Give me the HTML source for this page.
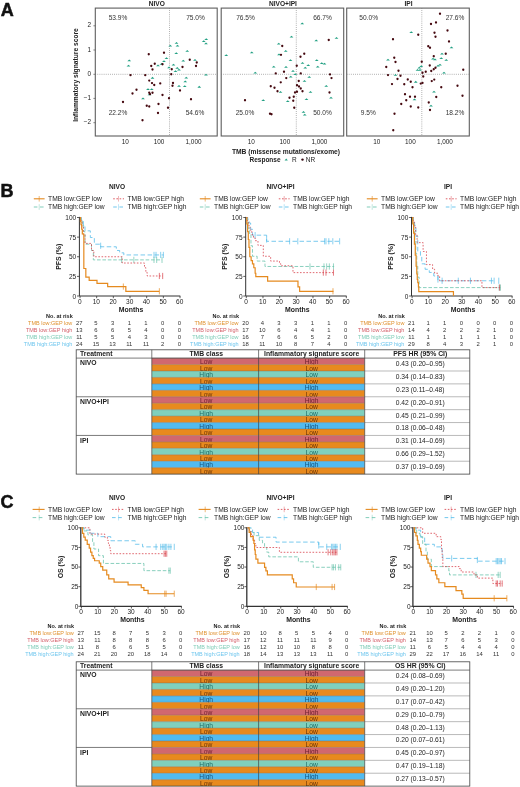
<!DOCTYPE html>
<html lang="en"><head><meta charset="utf-8"><title>Figure</title>
<style>
html,body{margin:0;padding:0;background:#fff;}
body{width:520px;height:787px;overflow:hidden;}
svg{display:block;font-family:"Liberation Sans", Arial, Helvetica, sans-serif;}
</style></head><body>
<svg width="520" height="787" viewBox="0 0 520 787">
<rect width="520" height="787" fill="#fff"/>
<text x="0.70" y="16.10" font-size="18" text-anchor="start" font-weight="bold" fill="#111" stroke="#111" stroke-width="0.5">A</text>
<text transform="translate(78.3,75) rotate(-90)" font-size="6.7" text-anchor="middle" font-weight="bold" fill="#222">Inflammatory signature score</text>
<rect x="95.3" y="8.1" width="121.90" height="127.90" fill="#fff" stroke="#5e5e5e" stroke-width="1.1"/>
<text x="156.75" y="6.20" font-size="6.6" text-anchor="middle" font-weight="bold" fill="#222" >NIVO</text>
<line x1="95.3" x2="217.2" y1="74.3" y2="74.3" stroke="#777" stroke-width="0.7" stroke-dasharray="0.8 1.3"/>
<line x1="169.5" x2="169.5" y1="8.1" y2="136.0" stroke="#777" stroke-width="0.7" stroke-dasharray="0.8 1.3"/>
<text x="125.30" y="143.60" font-size="6.4" text-anchor="middle" font-weight="normal" fill="#222" >10</text>
<text x="159.00" y="143.60" font-size="6.4" text-anchor="middle" font-weight="normal" fill="#222" >100</text>
<text x="193.50" y="143.60" font-size="6.4" text-anchor="middle" font-weight="normal" fill="#222" >1,000</text>
<path d="M127.35 61.35L131.15 61.35L129.25 59.45Z" fill="#22a083"/>
<path d="M126.60 66.60L130.40 66.60L128.50 64.70Z" fill="#22a083"/>
<path d="M168.35 46.60L172.15 46.60L170.25 44.70Z" fill="#22a083"/>
<path d="M174.60 43.85L178.40 43.85L176.50 41.95Z" fill="#22a083"/>
<path d="M175.60 46.60L179.40 46.60L177.50 44.70Z" fill="#22a083"/>
<path d="M174.35 54.10L178.15 54.10L176.25 52.20Z" fill="#22a083"/>
<path d="M185.35 51.85L189.15 51.85L187.25 49.95Z" fill="#22a083"/>
<path d="M204.35 40.10L208.15 40.10L206.25 38.20Z" fill="#22a083"/>
<path d="M201.85 42.10L205.65 42.10L203.75 40.20Z" fill="#22a083"/>
<path d="M204.10 44.35L207.90 44.35L206.00 42.45Z" fill="#22a083"/>
<path d="M164.60 59.10L168.40 59.10L166.50 57.20Z" fill="#22a083"/>
<path d="M162.10 62.10L165.90 62.10L164.00 60.20Z" fill="#22a083"/>
<path d="M156.10 66.35L159.90 66.35L158.00 64.45Z" fill="#22a083"/>
<path d="M181.35 61.60L185.15 61.60L183.25 59.70Z" fill="#22a083"/>
<path d="M193.10 60.85L196.90 60.85L195.00 58.95Z" fill="#22a083"/>
<path d="M171.60 65.60L175.40 65.60L173.50 63.70Z" fill="#22a083"/>
<path d="M167.10 68.35L170.90 68.35L169.00 66.45Z" fill="#22a083"/>
<path d="M175.35 68.85L179.15 68.85L177.25 66.95Z" fill="#22a083"/>
<path d="M177.10 70.60L180.90 70.60L179.00 68.70Z" fill="#22a083"/>
<path d="M173.60 72.10L177.40 72.10L175.50 70.20Z" fill="#22a083"/>
<path d="M204.10 75.60L207.90 75.60L206.00 73.70Z" fill="#22a083"/>
<path d="M184.35 78.60L188.15 78.60L186.25 76.70Z" fill="#22a083"/>
<path d="M183.35 82.35L187.15 82.35L185.25 80.45Z" fill="#22a083"/>
<path d="M150.60 78.75L154.40 78.75L152.50 76.85Z" fill="#22a083"/>
<path d="M177.10 86.85L180.90 86.85L179.00 84.95Z" fill="#22a083"/>
<path d="M182.85 87.05L186.65 87.05L184.75 85.15Z" fill="#22a083"/>
<path d="M197.35 87.75L201.15 87.75L199.25 85.85Z" fill="#22a083"/>
<path d="M146.10 90.10L149.90 90.10L148.00 88.20Z" fill="#22a083"/>
<path d="M149.85 90.10L153.65 90.10L151.75 88.20Z" fill="#22a083"/>
<path d="M147.60 95.35L151.40 95.35L149.50 93.45Z" fill="#22a083"/>
<path d="M141.10 99.35L144.90 99.35L143.00 97.45Z" fill="#22a083"/>
<path d="M159.60 64.85L163.40 64.85L161.50 62.95Z" fill="#22a083"/>
<circle cx="148.75" cy="54.25" r="1.15" fill="#45080f"/>
<circle cx="164.00" cy="52.75" r="1.15" fill="#45080f"/>
<circle cx="154.75" cy="63.75" r="1.15" fill="#45080f"/>
<circle cx="151.25" cy="66.00" r="1.15" fill="#45080f"/>
<circle cx="162.50" cy="64.25" r="1.15" fill="#45080f"/>
<circle cx="152.50" cy="69.50" r="1.15" fill="#45080f"/>
<circle cx="189.75" cy="59.75" r="1.15" fill="#45080f"/>
<circle cx="196.75" cy="62.50" r="1.15" fill="#45080f"/>
<circle cx="196.00" cy="66.00" r="1.15" fill="#45080f"/>
<circle cx="182.50" cy="67.00" r="1.15" fill="#45080f"/>
<circle cx="171.75" cy="69.25" r="1.15" fill="#45080f"/>
<circle cx="130.50" cy="75.20" r="1.15" fill="#45080f"/>
<circle cx="145.25" cy="75.20" r="1.15" fill="#45080f"/>
<circle cx="171.25" cy="74.25" r="1.15" fill="#45080f"/>
<circle cx="149.25" cy="80.60" r="1.15" fill="#45080f"/>
<circle cx="152.00" cy="83.10" r="1.15" fill="#45080f"/>
<circle cx="154.25" cy="85.00" r="1.15" fill="#45080f"/>
<circle cx="160.25" cy="83.40" r="1.15" fill="#45080f"/>
<circle cx="173.00" cy="83.00" r="1.15" fill="#45080f"/>
<circle cx="172.50" cy="85.75" r="1.15" fill="#45080f"/>
<circle cx="136.50" cy="89.75" r="1.15" fill="#45080f"/>
<circle cx="132.50" cy="93.50" r="1.15" fill="#45080f"/>
<circle cx="149.25" cy="92.75" r="1.15" fill="#45080f"/>
<circle cx="152.50" cy="92.75" r="1.15" fill="#45080f"/>
<circle cx="150.00" cy="94.20" r="1.15" fill="#45080f"/>
<circle cx="162.50" cy="95.00" r="1.15" fill="#45080f"/>
<circle cx="180.00" cy="90.50" r="1.15" fill="#45080f"/>
<circle cx="123.00" cy="102.00" r="1.15" fill="#45080f"/>
<circle cx="169.00" cy="98.25" r="1.15" fill="#45080f"/>
<circle cx="191.00" cy="99.25" r="1.15" fill="#45080f"/>
<circle cx="146.75" cy="105.75" r="1.15" fill="#45080f"/>
<circle cx="149.25" cy="106.50" r="1.15" fill="#45080f"/>
<circle cx="158.50" cy="104.00" r="1.15" fill="#45080f"/>
<circle cx="168.00" cy="107.75" r="1.15" fill="#45080f"/>
<circle cx="158.00" cy="113.00" r="1.15" fill="#45080f"/>
<circle cx="142.50" cy="120.25" r="1.15" fill="#45080f"/>
<text x="118.00" y="19.80" font-size="6.6" text-anchor="middle" font-weight="normal" fill="#333" >53.9%</text>
<text x="195.50" y="19.80" font-size="6.6" text-anchor="middle" font-weight="normal" fill="#333" >75.0%</text>
<text x="118.00" y="115.30" font-size="6.6" text-anchor="middle" font-weight="normal" fill="#333" >22.2%</text>
<text x="195.00" y="115.30" font-size="6.6" text-anchor="middle" font-weight="normal" fill="#333" >54.6%</text>
<rect x="221.2" y="8.1" width="122.50" height="127.90" fill="#fff" stroke="#5e5e5e" stroke-width="1.1"/>
<text x="282.95" y="6.20" font-size="6.6" text-anchor="middle" font-weight="bold" fill="#222" >NIVO+IPI</text>
<line x1="221.2" x2="343.7" y1="74.3" y2="74.3" stroke="#777" stroke-width="0.7" stroke-dasharray="0.8 1.3"/>
<line x1="296.3" x2="296.3" y1="8.1" y2="136.0" stroke="#777" stroke-width="0.7" stroke-dasharray="0.8 1.3"/>
<text x="251.20" y="143.60" font-size="6.4" text-anchor="middle" font-weight="normal" fill="#222" >10</text>
<text x="284.90" y="143.60" font-size="6.4" text-anchor="middle" font-weight="normal" fill="#222" >100</text>
<text x="319.40" y="143.60" font-size="6.4" text-anchor="middle" font-weight="normal" fill="#222" >1,000</text>
<path d="M300.35 24.35L304.15 24.35L302.25 22.45Z" fill="#22a083"/>
<path d="M289.60 37.60L293.40 37.60L291.50 35.70Z" fill="#22a083"/>
<path d="M334.60 38.85L338.40 38.85L336.50 36.95Z" fill="#22a083"/>
<path d="M314.35 41.35L318.15 41.35L316.25 39.45Z" fill="#22a083"/>
<path d="M276.85 44.60L280.65 44.60L278.75 42.70Z" fill="#22a083"/>
<path d="M224.35 56.10L228.15 56.10L226.25 54.20Z" fill="#22a083"/>
<path d="M249.85 53.35L253.65 53.35L251.75 51.45Z" fill="#22a083"/>
<path d="M283.85 51.85L287.65 51.85L285.75 49.95Z" fill="#22a083"/>
<path d="M277.10 55.35L280.90 55.35L279.00 53.45Z" fill="#22a083"/>
<path d="M288.60 61.10L292.40 61.10L290.50 59.20Z" fill="#22a083"/>
<path d="M314.85 61.10L318.65 61.10L316.75 59.20Z" fill="#22a083"/>
<path d="M300.60 63.85L304.40 63.85L302.50 61.95Z" fill="#22a083"/>
<path d="M319.85 64.10L323.65 64.10L321.75 62.20Z" fill="#22a083"/>
<path d="M322.60 64.60L326.40 64.60L324.50 62.70Z" fill="#22a083"/>
<path d="M306.35 66.10L310.15 66.10L308.25 64.20Z" fill="#22a083"/>
<path d="M271.85 67.60L275.65 67.60L273.75 65.70Z" fill="#22a083"/>
<path d="M284.10 67.85L287.90 67.85L286.00 65.95Z" fill="#22a083"/>
<path d="M303.35 68.60L307.15 68.60L305.25 66.70Z" fill="#22a083"/>
<path d="M315.85 67.60L319.65 67.60L317.75 65.70Z" fill="#22a083"/>
<path d="M291.10 71.85L294.90 71.85L293.00 69.95Z" fill="#22a083"/>
<path d="M253.35 73.60L257.15 73.60L255.25 71.70Z" fill="#22a083"/>
<path d="M293.35 75.10L297.15 75.10L295.25 73.20Z" fill="#22a083"/>
<path d="M288.85 77.60L292.65 77.60L290.75 75.70Z" fill="#22a083"/>
<path d="M307.35 77.85L311.15 77.85L309.25 75.95Z" fill="#22a083"/>
<path d="M302.60 81.85L306.40 81.85L304.50 79.95Z" fill="#22a083"/>
<path d="M324.35 86.85L328.15 86.85L326.25 84.95Z" fill="#22a083"/>
<path d="M278.60 92.85L282.40 92.85L280.50 90.95Z" fill="#22a083"/>
<path d="M308.60 92.85L312.40 92.85L310.50 90.95Z" fill="#22a083"/>
<path d="M329.10 98.60L332.90 98.60L331.00 96.70Z" fill="#22a083"/>
<path d="M261.35 101.10L265.15 101.10L263.25 99.20Z" fill="#22a083"/>
<path d="M285.85 102.10L289.65 102.10L287.75 100.20Z" fill="#22a083"/>
<path d="M304.60 100.10L308.40 100.10L306.50 98.20Z" fill="#22a083"/>
<path d="M301.60 112.85L305.40 112.85L303.50 110.95Z" fill="#22a083"/>
<path d="M302.85 115.60L306.65 115.60L304.75 113.70Z" fill="#22a083"/>
<circle cx="328.75" cy="40.00" r="1.15" fill="#45080f"/>
<circle cx="282.25" cy="46.00" r="1.15" fill="#45080f"/>
<circle cx="304.25" cy="53.75" r="1.15" fill="#45080f"/>
<circle cx="300.50" cy="56.75" r="1.15" fill="#45080f"/>
<circle cx="296.75" cy="65.75" r="1.15" fill="#45080f"/>
<circle cx="284.00" cy="71.75" r="1.15" fill="#45080f"/>
<circle cx="275.75" cy="73.40" r="1.15" fill="#45080f"/>
<circle cx="300.75" cy="73.40" r="1.15" fill="#45080f"/>
<circle cx="330.00" cy="74.40" r="1.15" fill="#45080f"/>
<circle cx="331.50" cy="78.10" r="1.15" fill="#45080f"/>
<circle cx="286.25" cy="78.10" r="1.15" fill="#45080f"/>
<circle cx="298.75" cy="81.00" r="1.15" fill="#45080f"/>
<circle cx="280.75" cy="82.30" r="1.15" fill="#45080f"/>
<circle cx="270.75" cy="86.25" r="1.15" fill="#45080f"/>
<circle cx="274.50" cy="87.75" r="1.15" fill="#45080f"/>
<circle cx="297.00" cy="85.25" r="1.15" fill="#45080f"/>
<circle cx="299.00" cy="86.50" r="1.15" fill="#45080f"/>
<circle cx="300.75" cy="88.50" r="1.15" fill="#45080f"/>
<circle cx="302.50" cy="91.25" r="1.15" fill="#45080f"/>
<circle cx="277.50" cy="91.25" r="1.15" fill="#45080f"/>
<circle cx="297.00" cy="91.75" r="1.15" fill="#45080f"/>
<circle cx="295.00" cy="92.50" r="1.15" fill="#45080f"/>
<circle cx="329.50" cy="92.50" r="1.15" fill="#45080f"/>
<circle cx="293.75" cy="96.75" r="1.15" fill="#45080f"/>
<circle cx="289.50" cy="97.75" r="1.15" fill="#45080f"/>
<circle cx="245.00" cy="100.25" r="1.15" fill="#45080f"/>
<circle cx="293.25" cy="100.75" r="1.15" fill="#45080f"/>
<circle cx="294.25" cy="107.75" r="1.15" fill="#45080f"/>
<circle cx="270.00" cy="113.75" r="1.15" fill="#45080f"/>
<circle cx="271.50" cy="114.25" r="1.15" fill="#45080f"/>
<circle cx="281.00" cy="54.80" r="1.15" fill="#45080f"/>
<text x="245.50" y="19.80" font-size="6.6" text-anchor="middle" font-weight="normal" fill="#333" >76.5%</text>
<text x="322.50" y="19.80" font-size="6.6" text-anchor="middle" font-weight="normal" fill="#333" >66.7%</text>
<text x="245.00" y="115.30" font-size="6.6" text-anchor="middle" font-weight="normal" fill="#333" >25.0%</text>
<text x="322.50" y="115.30" font-size="6.6" text-anchor="middle" font-weight="normal" fill="#333" >50.0%</text>
<rect x="346.7" y="8.1" width="122.60" height="127.90" fill="#fff" stroke="#5e5e5e" stroke-width="1.1"/>
<text x="408.50" y="6.20" font-size="6.6" text-anchor="middle" font-weight="bold" fill="#222" >IPI</text>
<line x1="346.7" x2="469.3" y1="74.3" y2="74.3" stroke="#777" stroke-width="0.7" stroke-dasharray="0.8 1.3"/>
<line x1="421.8" x2="421.8" y1="8.1" y2="136.0" stroke="#777" stroke-width="0.7" stroke-dasharray="0.8 1.3"/>
<text x="376.70" y="143.60" font-size="6.4" text-anchor="middle" font-weight="normal" fill="#222" >10</text>
<text x="410.40" y="143.60" font-size="6.4" text-anchor="middle" font-weight="normal" fill="#222" >100</text>
<text x="444.90" y="143.60" font-size="6.4" text-anchor="middle" font-weight="normal" fill="#222" >1,000</text>
<path d="M409.35 33.10L413.15 33.10L411.25 31.20Z" fill="#22a083"/>
<path d="M449.60 48.35L453.40 48.35L451.50 46.45Z" fill="#22a083"/>
<path d="M440.10 54.60L443.90 54.60L442.00 52.70Z" fill="#22a083"/>
<path d="M431.10 59.60L434.90 59.60L433.00 57.70Z" fill="#22a083"/>
<path d="M433.10 60.35L436.90 60.35L435.00 58.45Z" fill="#22a083"/>
<path d="M439.35 59.10L443.15 59.10L441.25 57.20Z" fill="#22a083"/>
<path d="M444.35 60.85L448.15 60.85L446.25 58.95Z" fill="#22a083"/>
<path d="M386.10 60.60L389.90 60.60L388.00 58.70Z" fill="#22a083"/>
<path d="M438.10 65.60L441.90 65.60L440.00 63.70Z" fill="#22a083"/>
<path d="M436.10 66.60L439.90 66.60L438.00 64.70Z" fill="#22a083"/>
<path d="M419.35 67.10L423.15 67.10L421.25 65.20Z" fill="#22a083"/>
<path d="M417.35 68.60L421.15 68.60L419.25 66.70Z" fill="#22a083"/>
<path d="M415.60 70.85L419.40 70.85L417.50 68.95Z" fill="#22a083"/>
<path d="M418.10 70.85L421.90 70.85L420.00 68.95Z" fill="#22a083"/>
<path d="M442.10 73.60L445.90 73.60L444.00 71.70Z" fill="#22a083"/>
<path d="M393.60 75.85L397.40 75.85L395.50 73.95Z" fill="#22a083"/>
<path d="M413.85 82.75L417.65 82.75L415.75 80.85Z" fill="#22a083"/>
<path d="M432.10 92.60L435.90 92.60L434.00 90.70Z" fill="#22a083"/>
<path d="M412.60 100.35L416.40 100.35L414.50 98.45Z" fill="#22a083"/>
<path d="M429.10 106.60L432.90 106.60L431.00 104.70Z" fill="#22a083"/>
<circle cx="440.00" cy="13.75" r="1.15" fill="#45080f"/>
<circle cx="436.00" cy="22.50" r="1.15" fill="#45080f"/>
<circle cx="431.00" cy="24.00" r="1.15" fill="#45080f"/>
<circle cx="447.50" cy="30.50" r="1.15" fill="#45080f"/>
<circle cx="434.50" cy="32.75" r="1.15" fill="#45080f"/>
<circle cx="418.25" cy="34.75" r="1.15" fill="#45080f"/>
<circle cx="435.50" cy="36.75" r="1.15" fill="#45080f"/>
<circle cx="393.00" cy="39.25" r="1.15" fill="#45080f"/>
<circle cx="449.00" cy="41.50" r="1.15" fill="#45080f"/>
<circle cx="428.25" cy="46.25" r="1.15" fill="#45080f"/>
<circle cx="430.00" cy="47.75" r="1.15" fill="#45080f"/>
<circle cx="445.75" cy="53.75" r="1.15" fill="#45080f"/>
<circle cx="433.75" cy="56.25" r="1.15" fill="#45080f"/>
<circle cx="394.25" cy="57.75" r="1.15" fill="#45080f"/>
<circle cx="395.50" cy="62.00" r="1.15" fill="#45080f"/>
<circle cx="421.75" cy="61.75" r="1.15" fill="#45080f"/>
<circle cx="429.75" cy="65.50" r="1.15" fill="#45080f"/>
<circle cx="386.25" cy="67.00" r="1.15" fill="#45080f"/>
<circle cx="435.50" cy="67.75" r="1.15" fill="#45080f"/>
<circle cx="433.75" cy="69.25" r="1.15" fill="#45080f"/>
<circle cx="463.25" cy="69.75" r="1.15" fill="#45080f"/>
<circle cx="398.50" cy="70.75" r="1.15" fill="#45080f"/>
<circle cx="431.25" cy="71.00" r="1.15" fill="#45080f"/>
<circle cx="425.75" cy="71.75" r="1.15" fill="#45080f"/>
<circle cx="422.50" cy="72.75" r="1.15" fill="#45080f"/>
<circle cx="388.00" cy="75.10" r="1.15" fill="#45080f"/>
<circle cx="400.50" cy="75.75" r="1.15" fill="#45080f"/>
<circle cx="423.25" cy="76.50" r="1.15" fill="#45080f"/>
<circle cx="397.50" cy="79.00" r="1.15" fill="#45080f"/>
<circle cx="407.75" cy="79.50" r="1.15" fill="#45080f"/>
<circle cx="410.75" cy="81.75" r="1.15" fill="#45080f"/>
<circle cx="434.25" cy="79.60" r="1.15" fill="#45080f"/>
<circle cx="431.75" cy="81.10" r="1.15" fill="#45080f"/>
<circle cx="422.50" cy="82.90" r="1.15" fill="#45080f"/>
<circle cx="420.75" cy="83.60" r="1.15" fill="#45080f"/>
<circle cx="392.00" cy="84.10" r="1.15" fill="#45080f"/>
<circle cx="404.25" cy="84.25" r="1.15" fill="#45080f"/>
<circle cx="457.50" cy="85.75" r="1.15" fill="#45080f"/>
<circle cx="441.25" cy="87.25" r="1.15" fill="#45080f"/>
<circle cx="412.50" cy="87.25" r="1.15" fill="#45080f"/>
<circle cx="405.00" cy="94.25" r="1.15" fill="#45080f"/>
<circle cx="410.00" cy="96.75" r="1.15" fill="#45080f"/>
<circle cx="415.00" cy="96.75" r="1.15" fill="#45080f"/>
<circle cx="436.25" cy="97.00" r="1.15" fill="#45080f"/>
<circle cx="462.50" cy="95.75" r="1.15" fill="#45080f"/>
<circle cx="406.25" cy="100.25" r="1.15" fill="#45080f"/>
<circle cx="428.75" cy="102.50" r="1.15" fill="#45080f"/>
<circle cx="401.25" cy="104.00" r="1.15" fill="#45080f"/>
<circle cx="410.75" cy="106.50" r="1.15" fill="#45080f"/>
<circle cx="418.25" cy="107.50" r="1.15" fill="#45080f"/>
<circle cx="430.00" cy="110.00" r="1.15" fill="#45080f"/>
<circle cx="394.50" cy="113.75" r="1.15" fill="#45080f"/>
<circle cx="393.25" cy="130.25" r="1.15" fill="#45080f"/>
<text x="368.70" y="19.80" font-size="6.6" text-anchor="middle" font-weight="normal" fill="#333" >50.0%</text>
<text x="455.00" y="19.80" font-size="6.6" text-anchor="middle" font-weight="normal" fill="#333" >27.6%</text>
<text x="368.30" y="115.30" font-size="6.6" text-anchor="middle" font-weight="normal" fill="#333" >9.5%</text>
<text x="455.00" y="115.30" font-size="6.6" text-anchor="middle" font-weight="normal" fill="#333" >18.2%</text>
<text x="91.00" y="27.30" font-size="6.4" text-anchor="end" font-weight="normal" fill="#222" >2</text>
<line x1="93.4" x2="95.3" y1="25.8" y2="25.8" stroke="#555" stroke-width="0.7"/>
<text x="91.00" y="51.50" font-size="6.4" text-anchor="end" font-weight="normal" fill="#222" >1</text>
<line x1="93.4" x2="95.3" y1="50" y2="50" stroke="#555" stroke-width="0.7"/>
<text x="91.00" y="75.80" font-size="6.4" text-anchor="end" font-weight="normal" fill="#222" >0</text>
<line x1="93.4" x2="95.3" y1="74.3" y2="74.3" stroke="#555" stroke-width="0.7"/>
<text x="91.00" y="99.90" font-size="6.4" text-anchor="end" font-weight="normal" fill="#222" >−1</text>
<line x1="93.4" x2="95.3" y1="98.4" y2="98.4" stroke="#555" stroke-width="0.7"/>
<text x="91.00" y="124.20" font-size="6.4" text-anchor="end" font-weight="normal" fill="#222" >−2</text>
<line x1="93.4" x2="95.3" y1="122.7" y2="122.7" stroke="#555" stroke-width="0.7"/>
<text x="286.00" y="154.20" font-size="6.7" text-anchor="middle" font-weight="bold" fill="#222" >TMB (missense mutations/exome)</text>
<text x="249.50" y="161.90" font-size="6.5" text-anchor="start" font-weight="bold" fill="#222" >Response</text>
<path d="M284.6 160.5L287.8 160.5L286.2 158.4Z" fill="#22a083"/>
<text x="292.00" y="161.90" font-size="6.5" text-anchor="start" font-weight="normal" fill="#222" >R</text>
<circle cx="302.5" cy="159.6" r="1.2" fill="#33060f"/>
<text x="305.70" y="161.90" font-size="6.5" text-anchor="start" font-weight="normal" fill="#222" >NR</text>
<text x="0.60" y="197.20" font-size="18" text-anchor="start" font-weight="bold" fill="#111" stroke="#111" stroke-width="0.5">B</text>
<text x="117.00" y="189.30" font-size="6.6" text-anchor="middle" font-weight="bold" fill="#222" >NIVO</text>
<line x1="33.8" x2="44.599999999999994" y1="198.79999999999998" y2="198.79999999999998" stroke="#e58a1f" stroke-width="1.1" />
<line x1="39.199999999999996" x2="39.199999999999996" y1="195.99999999999997" y2="201.6" stroke="#e58a1f" stroke-width="0.6" opacity="1"/>
<text x="48.10" y="201.10" font-size="6.7" text-anchor="start" font-weight="normal" fill="#222" >TMB low:GEP low</text>
<line x1="113.2" x2="124.0" y1="198.79999999999998" y2="198.79999999999998" stroke="#d8434c" stroke-width="0.85" stroke-dasharray="1.6 1.6"/>
<line x1="118.60000000000001" x2="118.60000000000001" y1="195.99999999999997" y2="201.6" stroke="#d8434c" stroke-width="0.6" opacity="0.7"/>
<text x="127.50" y="201.10" font-size="6.7" text-anchor="start" font-weight="normal" fill="#222" >TMB low:GEP high</text>
<line x1="33.8" x2="44.599999999999994" y1="206.99999999999997" y2="206.99999999999997" stroke="#6cc4ad" stroke-width="0.85" stroke-dasharray="3.6 2.6"/>
<line x1="39.199999999999996" x2="39.199999999999996" y1="204.19999999999996" y2="209.79999999999998" stroke="#6cc4ad" stroke-width="0.6" opacity="0.7"/>
<text x="48.10" y="209.30" font-size="6.7" text-anchor="start" font-weight="normal" fill="#222" >TMB high:GEP low</text>
<line x1="113.2" x2="124.0" y1="206.99999999999997" y2="206.99999999999997" stroke="#58bdea" stroke-width="0.85" stroke-dasharray="3.6 2.6"/>
<line x1="118.60000000000001" x2="118.60000000000001" y1="204.19999999999996" y2="209.79999999999998" stroke="#58bdea" stroke-width="0.6" opacity="0.7"/>
<text x="127.50" y="209.30" font-size="6.7" text-anchor="start" font-weight="normal" fill="#222" >TMB high:GEP high</text>
<path d="M79.4 216.90L79.4 296.0L180.32 296.0" fill="none" stroke="#333" stroke-width="1.0"/>
<line x1="77.0" x2="79.4" y1="296.00" y2="296.00" stroke="#333" stroke-width="0.8"/>
<text x="76.20" y="298.60" font-size="6.5" text-anchor="end" font-weight="normal" fill="#222" >0</text>
<line x1="77.0" x2="79.4" y1="276.38" y2="276.38" stroke="#333" stroke-width="0.8"/>
<text x="76.20" y="278.97" font-size="6.5" text-anchor="end" font-weight="normal" fill="#222" >25</text>
<line x1="77.0" x2="79.4" y1="256.75" y2="256.75" stroke="#333" stroke-width="0.8"/>
<text x="76.20" y="259.35" font-size="6.5" text-anchor="end" font-weight="normal" fill="#222" >50</text>
<line x1="77.0" x2="79.4" y1="237.12" y2="237.12" stroke="#333" stroke-width="0.8"/>
<text x="76.20" y="239.72" font-size="6.5" text-anchor="end" font-weight="normal" fill="#222" >75</text>
<line x1="77.0" x2="79.4" y1="217.50" y2="217.50" stroke="#333" stroke-width="0.8"/>
<text x="76.20" y="220.10" font-size="6.5" text-anchor="end" font-weight="normal" fill="#222" >100</text>
<line x1="80.00" x2="80.00" y1="296.0" y2="298.2" stroke="#333" stroke-width="0.8"/>
<text x="79.70" y="303.90" font-size="6.5" text-anchor="middle" font-weight="normal" fill="#222" >0</text>
<line x1="96.67" x2="96.67" y1="296.0" y2="298.2" stroke="#333" stroke-width="0.8"/>
<text x="96.37" y="303.90" font-size="6.5" text-anchor="middle" font-weight="normal" fill="#222" >10</text>
<line x1="113.34" x2="113.34" y1="296.0" y2="298.2" stroke="#333" stroke-width="0.8"/>
<text x="113.04" y="303.90" font-size="6.5" text-anchor="middle" font-weight="normal" fill="#222" >20</text>
<line x1="130.01" x2="130.01" y1="296.0" y2="298.2" stroke="#333" stroke-width="0.8"/>
<text x="129.71" y="303.90" font-size="6.5" text-anchor="middle" font-weight="normal" fill="#222" >30</text>
<line x1="146.68" x2="146.68" y1="296.0" y2="298.2" stroke="#333" stroke-width="0.8"/>
<text x="146.38" y="303.90" font-size="6.5" text-anchor="middle" font-weight="normal" fill="#222" >40</text>
<line x1="163.35" x2="163.35" y1="296.0" y2="298.2" stroke="#333" stroke-width="0.8"/>
<text x="163.05" y="303.90" font-size="6.5" text-anchor="middle" font-weight="normal" fill="#222" >50</text>
<line x1="180.02" x2="180.02" y1="296.0" y2="298.2" stroke="#333" stroke-width="0.8"/>
<text x="179.72" y="303.90" font-size="6.5" text-anchor="middle" font-weight="normal" fill="#222" >60</text>
<text x="131.01" y="311.50" font-size="6.9" text-anchor="middle" font-weight="bold" fill="#222" >Months</text>
<text transform="translate(61.10,256.75) rotate(-90)" font-size="6.9" text-anchor="middle" font-weight="bold" fill="#222">PFS (%)</text>
<path d="M80.00 217.50H81.33V219.86H83.33V225.35H85.00V230.84H90.34V237.52H94.34V244.19H100.67V246.78H116.34V250.47H119.67V252.82H123.84V254.94H163.68V254.94" fill="none" stroke="#58bdea" stroke-width="0.8" stroke-dasharray="4.5 2.5"/>
<line x1="100.67" x2="100.67" y1="242.66" y2="248.86" stroke="#58bdea" stroke-width="0.7"/>
<line x1="154.01" x2="154.01" y1="251.84" y2="258.04" stroke="#58bdea" stroke-width="0.7"/>
<line x1="156.02" x2="156.02" y1="251.84" y2="258.04" stroke="#58bdea" stroke-width="0.7"/>
<line x1="160.68" x2="160.68" y1="251.84" y2="258.04" stroke="#58bdea" stroke-width="0.7"/>
<line x1="163.35" x2="163.35" y1="251.84" y2="258.04" stroke="#58bdea" stroke-width="0.7"/>
<path d="M80.00 217.50H81.00V219.86H82.33V225.35H83.67V231.63H85.00V244.19H91.50V250.47H93.34V259.89H162.02V259.89" fill="none" stroke="#6cc4ad" stroke-width="0.8" stroke-dasharray="3.6 1.8"/>
<line x1="121.68" x2="121.68" y1="256.79" y2="262.99" stroke="#6cc4ad" stroke-width="0.7"/>
<line x1="133.84" x2="133.84" y1="256.79" y2="262.99" stroke="#6cc4ad" stroke-width="0.7"/>
<line x1="154.01" x2="154.01" y1="256.79" y2="262.99" stroke="#6cc4ad" stroke-width="0.7"/>
<line x1="156.68" x2="156.68" y1="256.79" y2="262.99" stroke="#6cc4ad" stroke-width="0.7"/>
<line x1="162.02" x2="162.02" y1="256.79" y2="262.99" stroke="#6cc4ad" stroke-width="0.7"/>
<path d="M80.00 217.50H80.83V220.64H82.00V226.92H83.33V234.77H85.00V243.41H91.50V250.47H93.84V256.75H122.18V263.03H144.51V267.74H145.85V272.45H147.18V275.98H162.68V275.98" fill="none" stroke="#d8434c" stroke-width="0.8" stroke-dasharray="1.6 1.6"/>
<line x1="159.35" x2="159.35" y1="272.88" y2="279.08" stroke="#d8434c" stroke-width="0.7"/>
<line x1="162.68" x2="162.68" y1="272.88" y2="279.08" stroke="#d8434c" stroke-width="0.7"/>
<path d="M80.00 217.50H80.50V221.43H81.00V224.56H81.67V229.27H82.33V233.99H83.83V268.52H85.83V277.16H89.17V280.30H97.00V283.44H107.67V286.58H125.84V291.29H159.35V291.29" fill="none" stroke="#e58a1f" stroke-width="1.2" />
<line x1="123.34" x2="123.34" y1="283.48" y2="289.68" stroke="#e58a1f" stroke-width="0.7"/>
<line x1="159.35" x2="159.35" y1="288.19" y2="294.39" stroke="#e58a1f" stroke-width="0.7"/>
<text x="72.70" y="317.80" font-size="5.5" text-anchor="end" font-weight="bold" fill="#222" >No. at risk</text>
<text x="72.30" y="324.90" font-size="5.5" text-anchor="end" font-weight="normal" fill="#e0922f" >TMB low:GEP low</text>
<text x="79.30" y="324.90" font-size="5.9" text-anchor="middle" font-weight="normal" fill="#333" >27</text>
<text x="95.97" y="324.90" font-size="5.9" text-anchor="middle" font-weight="normal" fill="#333" >5</text>
<text x="112.64" y="324.90" font-size="5.9" text-anchor="middle" font-weight="normal" fill="#333" >3</text>
<text x="129.31" y="324.90" font-size="5.9" text-anchor="middle" font-weight="normal" fill="#333" >1</text>
<text x="145.98" y="324.90" font-size="5.9" text-anchor="middle" font-weight="normal" fill="#333" >1</text>
<text x="162.65" y="324.90" font-size="5.9" text-anchor="middle" font-weight="normal" fill="#333" >0</text>
<text x="179.32" y="324.90" font-size="5.9" text-anchor="middle" font-weight="normal" fill="#333" >0</text>
<text x="72.30" y="331.86" font-size="5.5" text-anchor="end" font-weight="normal" fill="#d4606a" >TMB low:GEP high</text>
<text x="79.30" y="331.86" font-size="5.9" text-anchor="middle" font-weight="normal" fill="#333" >13</text>
<text x="95.97" y="331.86" font-size="5.9" text-anchor="middle" font-weight="normal" fill="#333" >6</text>
<text x="112.64" y="331.86" font-size="5.9" text-anchor="middle" font-weight="normal" fill="#333" >6</text>
<text x="129.31" y="331.86" font-size="5.9" text-anchor="middle" font-weight="normal" fill="#333" >5</text>
<text x="145.98" y="331.86" font-size="5.9" text-anchor="middle" font-weight="normal" fill="#333" >4</text>
<text x="162.65" y="331.86" font-size="5.9" text-anchor="middle" font-weight="normal" fill="#333" >0</text>
<text x="179.32" y="331.86" font-size="5.9" text-anchor="middle" font-weight="normal" fill="#333" >0</text>
<text x="72.30" y="338.82" font-size="5.5" text-anchor="end" font-weight="normal" fill="#7fcdb8" >TMB high:GEP low</text>
<text x="79.30" y="338.82" font-size="5.9" text-anchor="middle" font-weight="normal" fill="#333" >11</text>
<text x="95.97" y="338.82" font-size="5.9" text-anchor="middle" font-weight="normal" fill="#333" >5</text>
<text x="112.64" y="338.82" font-size="5.9" text-anchor="middle" font-weight="normal" fill="#333" >5</text>
<text x="129.31" y="338.82" font-size="5.9" text-anchor="middle" font-weight="normal" fill="#333" >4</text>
<text x="145.98" y="338.82" font-size="5.9" text-anchor="middle" font-weight="normal" fill="#333" >3</text>
<text x="162.65" y="338.82" font-size="5.9" text-anchor="middle" font-weight="normal" fill="#333" >0</text>
<text x="179.32" y="338.82" font-size="5.9" text-anchor="middle" font-weight="normal" fill="#333" >0</text>
<text x="72.30" y="345.78" font-size="5.5" text-anchor="end" font-weight="normal" fill="#6fc6ee" >TMB high:GEP high</text>
<text x="79.30" y="345.78" font-size="5.9" text-anchor="middle" font-weight="normal" fill="#333" >24</text>
<text x="95.97" y="345.78" font-size="5.9" text-anchor="middle" font-weight="normal" fill="#333" >15</text>
<text x="112.64" y="345.78" font-size="5.9" text-anchor="middle" font-weight="normal" fill="#333" >13</text>
<text x="129.31" y="345.78" font-size="5.9" text-anchor="middle" font-weight="normal" fill="#333" >11</text>
<text x="145.98" y="345.78" font-size="5.9" text-anchor="middle" font-weight="normal" fill="#333" >11</text>
<text x="162.65" y="345.78" font-size="5.9" text-anchor="middle" font-weight="normal" fill="#333" >2</text>
<text x="179.32" y="345.78" font-size="5.9" text-anchor="middle" font-weight="normal" fill="#333" >0</text>
<text x="280.50" y="189.30" font-size="6.6" text-anchor="middle" font-weight="bold" fill="#222" >NIVO+IPI</text>
<line x1="199.8" x2="210.60000000000002" y1="198.79999999999998" y2="198.79999999999998" stroke="#e58a1f" stroke-width="1.1" />
<line x1="205.20000000000002" x2="205.20000000000002" y1="195.99999999999997" y2="201.6" stroke="#e58a1f" stroke-width="0.6" opacity="1"/>
<text x="214.10" y="201.10" font-size="6.7" text-anchor="start" font-weight="normal" fill="#222" >TMB low:GEP low</text>
<line x1="278.8" x2="289.6" y1="198.79999999999998" y2="198.79999999999998" stroke="#d8434c" stroke-width="0.85" stroke-dasharray="1.6 1.6"/>
<line x1="284.2" x2="284.2" y1="195.99999999999997" y2="201.6" stroke="#d8434c" stroke-width="0.6" opacity="0.7"/>
<text x="293.10" y="201.10" font-size="6.7" text-anchor="start" font-weight="normal" fill="#222" >TMB low:GEP high</text>
<line x1="199.8" x2="210.60000000000002" y1="206.99999999999997" y2="206.99999999999997" stroke="#6cc4ad" stroke-width="0.85" stroke-dasharray="3.6 2.6"/>
<line x1="205.20000000000002" x2="205.20000000000002" y1="204.19999999999996" y2="209.79999999999998" stroke="#6cc4ad" stroke-width="0.6" opacity="0.7"/>
<text x="214.10" y="209.30" font-size="6.7" text-anchor="start" font-weight="normal" fill="#222" >TMB high:GEP low</text>
<line x1="278.8" x2="289.6" y1="206.99999999999997" y2="206.99999999999997" stroke="#58bdea" stroke-width="0.85" stroke-dasharray="3.6 2.6"/>
<line x1="284.2" x2="284.2" y1="204.19999999999996" y2="209.79999999999998" stroke="#58bdea" stroke-width="0.6" opacity="0.7"/>
<text x="293.10" y="209.30" font-size="6.7" text-anchor="start" font-weight="normal" fill="#222" >TMB high:GEP high</text>
<path d="M245.70000000000002 216.90L245.70000000000002 296.0L346.62 296.0" fill="none" stroke="#333" stroke-width="1.0"/>
<line x1="243.3" x2="245.70000000000002" y1="296.00" y2="296.00" stroke="#333" stroke-width="0.8"/>
<text x="242.50" y="298.60" font-size="6.5" text-anchor="end" font-weight="normal" fill="#222" >0</text>
<line x1="243.3" x2="245.70000000000002" y1="276.38" y2="276.38" stroke="#333" stroke-width="0.8"/>
<text x="242.50" y="278.97" font-size="6.5" text-anchor="end" font-weight="normal" fill="#222" >25</text>
<line x1="243.3" x2="245.70000000000002" y1="256.75" y2="256.75" stroke="#333" stroke-width="0.8"/>
<text x="242.50" y="259.35" font-size="6.5" text-anchor="end" font-weight="normal" fill="#222" >50</text>
<line x1="243.3" x2="245.70000000000002" y1="237.12" y2="237.12" stroke="#333" stroke-width="0.8"/>
<text x="242.50" y="239.72" font-size="6.5" text-anchor="end" font-weight="normal" fill="#222" >75</text>
<line x1="243.3" x2="245.70000000000002" y1="217.50" y2="217.50" stroke="#333" stroke-width="0.8"/>
<text x="242.50" y="220.10" font-size="6.5" text-anchor="end" font-weight="normal" fill="#222" >100</text>
<line x1="246.30" x2="246.30" y1="296.0" y2="298.2" stroke="#333" stroke-width="0.8"/>
<text x="246.00" y="303.90" font-size="6.5" text-anchor="middle" font-weight="normal" fill="#222" >0</text>
<line x1="262.97" x2="262.97" y1="296.0" y2="298.2" stroke="#333" stroke-width="0.8"/>
<text x="262.67" y="303.90" font-size="6.5" text-anchor="middle" font-weight="normal" fill="#222" >10</text>
<line x1="279.64" x2="279.64" y1="296.0" y2="298.2" stroke="#333" stroke-width="0.8"/>
<text x="279.34" y="303.90" font-size="6.5" text-anchor="middle" font-weight="normal" fill="#222" >20</text>
<line x1="296.31" x2="296.31" y1="296.0" y2="298.2" stroke="#333" stroke-width="0.8"/>
<text x="296.01" y="303.90" font-size="6.5" text-anchor="middle" font-weight="normal" fill="#222" >30</text>
<line x1="312.98" x2="312.98" y1="296.0" y2="298.2" stroke="#333" stroke-width="0.8"/>
<text x="312.68" y="303.90" font-size="6.5" text-anchor="middle" font-weight="normal" fill="#222" >40</text>
<line x1="329.65" x2="329.65" y1="296.0" y2="298.2" stroke="#333" stroke-width="0.8"/>
<text x="329.35" y="303.90" font-size="6.5" text-anchor="middle" font-weight="normal" fill="#222" >50</text>
<line x1="346.32" x2="346.32" y1="296.0" y2="298.2" stroke="#333" stroke-width="0.8"/>
<text x="346.02" y="303.90" font-size="6.5" text-anchor="middle" font-weight="normal" fill="#222" >60</text>
<text x="297.31" y="311.50" font-size="6.9" text-anchor="middle" font-weight="bold" fill="#222" >Months</text>
<text transform="translate(227.40,256.75) rotate(-90)" font-size="6.9" text-anchor="middle" font-weight="bold" fill="#222">PFS (%)</text>
<path d="M246.30 217.50H247.80V219.86H249.30V223.00H250.63V229.27H252.47V235.16H266.64V241.29H339.65V241.29" fill="none" stroke="#58bdea" stroke-width="0.8" stroke-dasharray="4.5 2.5"/>
<line x1="255.14" x2="255.14" y1="232.06" y2="238.26" stroke="#58bdea" stroke-width="0.7"/>
<line x1="266.64" x2="266.64" y1="236.38" y2="242.58" stroke="#58bdea" stroke-width="0.7"/>
<line x1="289.64" x2="289.64" y1="238.19" y2="244.39" stroke="#58bdea" stroke-width="0.7"/>
<line x1="297.81" x2="297.81" y1="238.19" y2="244.39" stroke="#58bdea" stroke-width="0.7"/>
<line x1="324.65" x2="324.65" y1="238.19" y2="244.39" stroke="#58bdea" stroke-width="0.7"/>
<line x1="325.98" x2="325.98" y1="238.19" y2="244.39" stroke="#58bdea" stroke-width="0.7"/>
<line x1="328.82" x2="328.82" y1="238.19" y2="244.39" stroke="#58bdea" stroke-width="0.7"/>
<line x1="332.82" x2="332.82" y1="238.19" y2="244.39" stroke="#58bdea" stroke-width="0.7"/>
<line x1="339.65" x2="339.65" y1="238.19" y2="244.39" stroke="#58bdea" stroke-width="0.7"/>
<path d="M246.30 217.50H247.13V222.21H248.30V228.49H249.63V234.77H250.97V245.76H252.47V256.28H257.14V261.07H264.97V266.48H334.15V266.48" fill="none" stroke="#6cc4ad" stroke-width="0.8" stroke-dasharray="3.6 1.8"/>
<line x1="309.98" x2="309.98" y1="263.38" y2="269.58" stroke="#6cc4ad" stroke-width="0.7"/>
<line x1="323.98" x2="323.98" y1="263.38" y2="269.58" stroke="#6cc4ad" stroke-width="0.7"/>
<line x1="326.65" x2="326.65" y1="263.38" y2="269.58" stroke="#6cc4ad" stroke-width="0.7"/>
<line x1="329.32" x2="329.32" y1="263.38" y2="269.58" stroke="#6cc4ad" stroke-width="0.7"/>
<line x1="333.48" x2="333.48" y1="263.38" y2="269.58" stroke="#6cc4ad" stroke-width="0.7"/>
<path d="M246.30 217.50H247.13V220.64H248.30V225.35H249.97V230.06H251.80V234.77H253.47V237.91H255.14V240.66H257.97V245.37H263.30V256.28H270.64V261.07H279.47V263.81H280.81V265.78H292.98V272.61H333.48V272.61" fill="none" stroke="#d8434c" stroke-width="0.8" stroke-dasharray="1.6 1.6"/>
<line x1="323.32" x2="323.32" y1="269.51" y2="275.71" stroke="#d8434c" stroke-width="0.7"/>
<line x1="325.98" x2="325.98" y1="269.51" y2="275.71" stroke="#d8434c" stroke-width="0.7"/>
<line x1="333.48" x2="333.48" y1="269.51" y2="275.71" stroke="#d8434c" stroke-width="0.7"/>
<path d="M246.30 217.50H246.80V223.78H247.63V231.63H248.30V239.48H248.97V247.33H249.80V256.75H251.13V260.68H252.47V263.81H253.80V267.74H255.14V273.24H255.80V276.69H267.64V281.16H297.98V286.89H299.64V291.29H333.48V291.29" fill="none" stroke="#e58a1f" stroke-width="1.2" />
<line x1="332.98" x2="332.98" y1="288.19" y2="294.39" stroke="#e58a1f" stroke-width="0.7"/>
<text x="239.00" y="317.80" font-size="5.5" text-anchor="end" font-weight="bold" fill="#222" >No. at risk</text>
<text x="238.60" y="324.90" font-size="5.5" text-anchor="end" font-weight="normal" fill="#e0922f" >TMB low:GEP low</text>
<text x="245.60" y="324.90" font-size="5.9" text-anchor="middle" font-weight="normal" fill="#333" >20</text>
<text x="262.27" y="324.90" font-size="5.9" text-anchor="middle" font-weight="normal" fill="#333" >4</text>
<text x="278.94" y="324.90" font-size="5.9" text-anchor="middle" font-weight="normal" fill="#333" >3</text>
<text x="295.61" y="324.90" font-size="5.9" text-anchor="middle" font-weight="normal" fill="#333" >3</text>
<text x="312.28" y="324.90" font-size="5.9" text-anchor="middle" font-weight="normal" fill="#333" >1</text>
<text x="328.95" y="324.90" font-size="5.9" text-anchor="middle" font-weight="normal" fill="#333" >1</text>
<text x="345.62" y="324.90" font-size="5.9" text-anchor="middle" font-weight="normal" fill="#333" >0</text>
<text x="238.60" y="331.86" font-size="5.5" text-anchor="end" font-weight="normal" fill="#d4606a" >TMB low:GEP high</text>
<text x="245.60" y="331.86" font-size="5.9" text-anchor="middle" font-weight="normal" fill="#333" >17</text>
<text x="262.27" y="331.86" font-size="5.9" text-anchor="middle" font-weight="normal" fill="#333" >10</text>
<text x="278.94" y="331.86" font-size="5.9" text-anchor="middle" font-weight="normal" fill="#333" >6</text>
<text x="295.61" y="331.86" font-size="5.9" text-anchor="middle" font-weight="normal" fill="#333" >4</text>
<text x="312.28" y="331.86" font-size="5.9" text-anchor="middle" font-weight="normal" fill="#333" >4</text>
<text x="328.95" y="331.86" font-size="5.9" text-anchor="middle" font-weight="normal" fill="#333" >1</text>
<text x="345.62" y="331.86" font-size="5.9" text-anchor="middle" font-weight="normal" fill="#333" >0</text>
<text x="238.60" y="338.82" font-size="5.5" text-anchor="end" font-weight="normal" fill="#7fcdb8" >TMB high:GEP low</text>
<text x="245.60" y="338.82" font-size="5.9" text-anchor="middle" font-weight="normal" fill="#333" >16</text>
<text x="262.27" y="338.82" font-size="5.9" text-anchor="middle" font-weight="normal" fill="#333" >7</text>
<text x="278.94" y="338.82" font-size="5.9" text-anchor="middle" font-weight="normal" fill="#333" >6</text>
<text x="295.61" y="338.82" font-size="5.9" text-anchor="middle" font-weight="normal" fill="#333" >6</text>
<text x="312.28" y="338.82" font-size="5.9" text-anchor="middle" font-weight="normal" fill="#333" >5</text>
<text x="328.95" y="338.82" font-size="5.9" text-anchor="middle" font-weight="normal" fill="#333" >2</text>
<text x="345.62" y="338.82" font-size="5.9" text-anchor="middle" font-weight="normal" fill="#333" >0</text>
<text x="238.60" y="345.78" font-size="5.5" text-anchor="end" font-weight="normal" fill="#6fc6ee" >TMB high:GEP high</text>
<text x="245.60" y="345.78" font-size="5.9" text-anchor="middle" font-weight="normal" fill="#333" >18</text>
<text x="262.27" y="345.78" font-size="5.9" text-anchor="middle" font-weight="normal" fill="#333" >11</text>
<text x="278.94" y="345.78" font-size="5.9" text-anchor="middle" font-weight="normal" fill="#333" >10</text>
<text x="295.61" y="345.78" font-size="5.9" text-anchor="middle" font-weight="normal" fill="#333" >8</text>
<text x="312.28" y="345.78" font-size="5.9" text-anchor="middle" font-weight="normal" fill="#333" >7</text>
<text x="328.95" y="345.78" font-size="5.9" text-anchor="middle" font-weight="normal" fill="#333" >4</text>
<text x="345.62" y="345.78" font-size="5.9" text-anchor="middle" font-weight="normal" fill="#333" >0</text>
<text x="448.00" y="189.30" font-size="6.6" text-anchor="middle" font-weight="bold" fill="#222" >IPI</text>
<line x1="366.8" x2="377.6" y1="198.79999999999998" y2="198.79999999999998" stroke="#e58a1f" stroke-width="1.1" />
<line x1="372.2" x2="372.2" y1="195.99999999999997" y2="201.6" stroke="#e58a1f" stroke-width="0.6" opacity="1"/>
<text x="381.10" y="201.10" font-size="6.7" text-anchor="start" font-weight="normal" fill="#222" >TMB low:GEP low</text>
<line x1="445.8" x2="456.6" y1="198.79999999999998" y2="198.79999999999998" stroke="#d8434c" stroke-width="0.85" stroke-dasharray="1.6 1.6"/>
<line x1="451.2" x2="451.2" y1="195.99999999999997" y2="201.6" stroke="#d8434c" stroke-width="0.6" opacity="0.7"/>
<text x="460.10" y="201.10" font-size="6.7" text-anchor="start" font-weight="normal" fill="#222" >TMB low:GEP high</text>
<line x1="366.8" x2="377.6" y1="206.99999999999997" y2="206.99999999999997" stroke="#6cc4ad" stroke-width="0.85" stroke-dasharray="3.6 2.6"/>
<line x1="372.2" x2="372.2" y1="204.19999999999996" y2="209.79999999999998" stroke="#6cc4ad" stroke-width="0.6" opacity="0.7"/>
<text x="381.10" y="209.30" font-size="6.7" text-anchor="start" font-weight="normal" fill="#222" >TMB high:GEP low</text>
<line x1="445.8" x2="456.6" y1="206.99999999999997" y2="206.99999999999997" stroke="#58bdea" stroke-width="0.85" stroke-dasharray="3.6 2.6"/>
<line x1="451.2" x2="451.2" y1="204.19999999999996" y2="209.79999999999998" stroke="#58bdea" stroke-width="0.6" opacity="0.7"/>
<text x="460.10" y="209.30" font-size="6.7" text-anchor="start" font-weight="normal" fill="#222" >TMB high:GEP high</text>
<path d="M411.5 216.90L411.5 296.0L512.42 296.0" fill="none" stroke="#333" stroke-width="1.0"/>
<line x1="409.1" x2="411.5" y1="296.00" y2="296.00" stroke="#333" stroke-width="0.8"/>
<text x="408.30" y="298.60" font-size="6.5" text-anchor="end" font-weight="normal" fill="#222" >0</text>
<line x1="409.1" x2="411.5" y1="276.38" y2="276.38" stroke="#333" stroke-width="0.8"/>
<text x="408.30" y="278.97" font-size="6.5" text-anchor="end" font-weight="normal" fill="#222" >25</text>
<line x1="409.1" x2="411.5" y1="256.75" y2="256.75" stroke="#333" stroke-width="0.8"/>
<text x="408.30" y="259.35" font-size="6.5" text-anchor="end" font-weight="normal" fill="#222" >50</text>
<line x1="409.1" x2="411.5" y1="237.12" y2="237.12" stroke="#333" stroke-width="0.8"/>
<text x="408.30" y="239.72" font-size="6.5" text-anchor="end" font-weight="normal" fill="#222" >75</text>
<line x1="409.1" x2="411.5" y1="217.50" y2="217.50" stroke="#333" stroke-width="0.8"/>
<text x="408.30" y="220.10" font-size="6.5" text-anchor="end" font-weight="normal" fill="#222" >100</text>
<line x1="412.10" x2="412.10" y1="296.0" y2="298.2" stroke="#333" stroke-width="0.8"/>
<text x="411.80" y="303.90" font-size="6.5" text-anchor="middle" font-weight="normal" fill="#222" >0</text>
<line x1="428.77" x2="428.77" y1="296.0" y2="298.2" stroke="#333" stroke-width="0.8"/>
<text x="428.47" y="303.90" font-size="6.5" text-anchor="middle" font-weight="normal" fill="#222" >10</text>
<line x1="445.44" x2="445.44" y1="296.0" y2="298.2" stroke="#333" stroke-width="0.8"/>
<text x="445.14" y="303.90" font-size="6.5" text-anchor="middle" font-weight="normal" fill="#222" >20</text>
<line x1="462.11" x2="462.11" y1="296.0" y2="298.2" stroke="#333" stroke-width="0.8"/>
<text x="461.81" y="303.90" font-size="6.5" text-anchor="middle" font-weight="normal" fill="#222" >30</text>
<line x1="478.78" x2="478.78" y1="296.0" y2="298.2" stroke="#333" stroke-width="0.8"/>
<text x="478.48" y="303.90" font-size="6.5" text-anchor="middle" font-weight="normal" fill="#222" >40</text>
<line x1="495.45" x2="495.45" y1="296.0" y2="298.2" stroke="#333" stroke-width="0.8"/>
<text x="495.15" y="303.90" font-size="6.5" text-anchor="middle" font-weight="normal" fill="#222" >50</text>
<line x1="512.12" x2="512.12" y1="296.0" y2="298.2" stroke="#333" stroke-width="0.8"/>
<text x="511.82" y="303.90" font-size="6.5" text-anchor="middle" font-weight="normal" fill="#222" >60</text>
<text x="463.11" y="311.50" font-size="6.9" text-anchor="middle" font-weight="bold" fill="#222" >Months</text>
<text transform="translate(393.20,256.75) rotate(-90)" font-size="6.9" text-anchor="middle" font-weight="bold" fill="#222">PFS (%)</text>
<path d="M412.10 217.50H413.27V220.64H414.60V225.35H415.93V236.34H417.77V251.49H420.44V256.99H421.77V263.81H425.10V269.31H429.27V272.45H433.77V275.98H437.94V280.77H495.45V280.77" fill="none" stroke="#58bdea" stroke-width="0.8" stroke-dasharray="4.5 2.5"/>
<line x1="437.94" x2="437.94" y1="276.41" y2="282.62" stroke="#58bdea" stroke-width="0.7"/>
<line x1="442.11" x2="442.11" y1="277.67" y2="283.87" stroke="#58bdea" stroke-width="0.7"/>
<line x1="458.28" x2="458.28" y1="277.67" y2="283.87" stroke="#58bdea" stroke-width="0.7"/>
<line x1="470.45" x2="470.45" y1="277.67" y2="283.87" stroke="#58bdea" stroke-width="0.7"/>
<line x1="491.45" x2="491.45" y1="277.67" y2="283.87" stroke="#58bdea" stroke-width="0.7"/>
<line x1="494.12" x2="494.12" y1="277.67" y2="283.87" stroke="#58bdea" stroke-width="0.7"/>
<line x1="498.78" x2="498.78" y1="277.67" y2="283.87" stroke="#58bdea" stroke-width="0.7"/>
<path d="M412.10 217.50H412.93V222.21H413.93V230.06H414.77V241.05H415.77V253.61H416.77V266.17H417.77V277.16H419.10V287.60H500.45V287.60" fill="none" stroke="#6cc4ad" stroke-width="0.8" stroke-dasharray="3.6 1.8"/>
<line x1="499.12" x2="499.12" y1="284.50" y2="290.70" stroke="#6cc4ad" stroke-width="0.7"/>
<line x1="500.45" x2="500.45" y1="284.50" y2="290.70" stroke="#6cc4ad" stroke-width="0.7"/>
<path d="M412.10 217.50H413.10V221.43H414.27V226.92H415.60V234.77H417.10V242.62H423.10V251.49H426.44V264.60H432.60V269.31H434.60V273.24H437.94V275.98H439.61V280.77H481.95V287.60H499.62V287.60" fill="none" stroke="#d8434c" stroke-width="0.8" stroke-dasharray="1.6 1.6"/>
<line x1="499.62" x2="499.62" y1="284.50" y2="290.70" stroke="#d8434c" stroke-width="0.7"/>
<path d="M412.10 217.50H412.77V223.78H413.60V233.20H414.43V244.19H415.27V255.18H416.10V266.17H416.77V274.02H417.27V279.51H417.77V282.65H418.43V286.89H418.77V291.68H453.44V296.00" fill="none" stroke="#e58a1f" stroke-width="1.2" />
<text x="404.80" y="317.80" font-size="5.5" text-anchor="end" font-weight="bold" fill="#222" >No. at risk</text>
<text x="404.40" y="324.90" font-size="5.5" text-anchor="end" font-weight="normal" fill="#e0922f" >TMB low:GEP low</text>
<text x="411.40" y="324.90" font-size="5.9" text-anchor="middle" font-weight="normal" fill="#333" >21</text>
<text x="428.07" y="324.90" font-size="5.9" text-anchor="middle" font-weight="normal" fill="#333" >1</text>
<text x="444.74" y="324.90" font-size="5.9" text-anchor="middle" font-weight="normal" fill="#333" >1</text>
<text x="461.41" y="324.90" font-size="5.9" text-anchor="middle" font-weight="normal" fill="#333" >0</text>
<text x="478.08" y="324.90" font-size="5.9" text-anchor="middle" font-weight="normal" fill="#333" >0</text>
<text x="494.75" y="324.90" font-size="5.9" text-anchor="middle" font-weight="normal" fill="#333" >0</text>
<text x="511.42" y="324.90" font-size="5.9" text-anchor="middle" font-weight="normal" fill="#333" >0</text>
<text x="404.40" y="331.86" font-size="5.5" text-anchor="end" font-weight="normal" fill="#d4606a" >TMB low:GEP high</text>
<text x="411.40" y="331.86" font-size="5.9" text-anchor="middle" font-weight="normal" fill="#333" >14</text>
<text x="428.07" y="331.86" font-size="5.9" text-anchor="middle" font-weight="normal" fill="#333" >4</text>
<text x="444.74" y="331.86" font-size="5.9" text-anchor="middle" font-weight="normal" fill="#333" >2</text>
<text x="461.41" y="331.86" font-size="5.9" text-anchor="middle" font-weight="normal" fill="#333" >2</text>
<text x="478.08" y="331.86" font-size="5.9" text-anchor="middle" font-weight="normal" fill="#333" >2</text>
<text x="494.75" y="331.86" font-size="5.9" text-anchor="middle" font-weight="normal" fill="#333" >1</text>
<text x="511.42" y="331.86" font-size="5.9" text-anchor="middle" font-weight="normal" fill="#333" >0</text>
<text x="404.40" y="338.82" font-size="5.5" text-anchor="end" font-weight="normal" fill="#7fcdb8" >TMB high:GEP low</text>
<text x="411.40" y="338.82" font-size="5.9" text-anchor="middle" font-weight="normal" fill="#333" >11</text>
<text x="428.07" y="338.82" font-size="5.9" text-anchor="middle" font-weight="normal" fill="#333" >1</text>
<text x="444.74" y="338.82" font-size="5.9" text-anchor="middle" font-weight="normal" fill="#333" >1</text>
<text x="461.41" y="338.82" font-size="5.9" text-anchor="middle" font-weight="normal" fill="#333" >1</text>
<text x="478.08" y="338.82" font-size="5.9" text-anchor="middle" font-weight="normal" fill="#333" >1</text>
<text x="494.75" y="338.82" font-size="5.9" text-anchor="middle" font-weight="normal" fill="#333" >1</text>
<text x="511.42" y="338.82" font-size="5.9" text-anchor="middle" font-weight="normal" fill="#333" >0</text>
<text x="404.40" y="345.78" font-size="5.5" text-anchor="end" font-weight="normal" fill="#6fc6ee" >TMB high:GEP high</text>
<text x="411.40" y="345.78" font-size="5.9" text-anchor="middle" font-weight="normal" fill="#333" >29</text>
<text x="428.07" y="345.78" font-size="5.9" text-anchor="middle" font-weight="normal" fill="#333" >8</text>
<text x="444.74" y="345.78" font-size="5.9" text-anchor="middle" font-weight="normal" fill="#333" >4</text>
<text x="461.41" y="345.78" font-size="5.9" text-anchor="middle" font-weight="normal" fill="#333" >3</text>
<text x="478.08" y="345.78" font-size="5.9" text-anchor="middle" font-weight="normal" fill="#333" >2</text>
<text x="494.75" y="345.78" font-size="5.9" text-anchor="middle" font-weight="normal" fill="#333" >1</text>
<text x="511.42" y="345.78" font-size="5.9" text-anchor="middle" font-weight="normal" fill="#333" >0</text>
<rect x="76.2" y="349.8" width="393.60" height="124.31" fill="#fff" stroke="none"/>
<rect x="151.8" y="358.10" width="212.90" height="6.45" fill="#d1686f"/>
<line x1="151.8" x2="364.7" y1="358.10" y2="358.10" stroke="#6a5a4a" stroke-width="0.35"/>
<text x="206.20" y="364.35" font-size="6.7" text-anchor="middle" font-weight="normal" fill="#6e2030" >Low</text>
<text x="311.65" y="364.35" font-size="6.7" text-anchor="middle" font-weight="normal" fill="#6e2030" >High</text>
<rect x="151.8" y="364.55" width="212.90" height="6.45" fill="#e88a1e"/>
<line x1="151.8" x2="364.7" y1="364.55" y2="364.55" stroke="#6a5a4a" stroke-width="0.35"/>
<text x="206.20" y="370.79" font-size="6.7" text-anchor="middle" font-weight="normal" fill="#6b3305" >Low</text>
<text x="311.65" y="370.79" font-size="6.7" text-anchor="middle" font-weight="normal" fill="#6b3305" >Low</text>
<rect x="151.8" y="370.99" width="212.90" height="6.45" fill="#80d0bd"/>
<line x1="151.8" x2="364.7" y1="370.99" y2="370.99" stroke="#6a5a4a" stroke-width="0.35"/>
<text x="206.20" y="377.24" font-size="6.7" text-anchor="middle" font-weight="normal" fill="#1f6b66" >High</text>
<text x="311.65" y="377.24" font-size="6.7" text-anchor="middle" font-weight="normal" fill="#1f6b66" >Low</text>
<rect x="151.8" y="377.44" width="212.90" height="6.45" fill="#e88a1e"/>
<line x1="151.8" x2="364.7" y1="377.44" y2="377.44" stroke="#6a5a4a" stroke-width="0.35"/>
<text x="206.20" y="383.68" font-size="6.7" text-anchor="middle" font-weight="normal" fill="#6b3305" >Low</text>
<text x="311.65" y="383.68" font-size="6.7" text-anchor="middle" font-weight="normal" fill="#6b3305" >Low</text>
<rect x="151.8" y="383.88" width="212.90" height="6.45" fill="#52bbf0"/>
<line x1="151.8" x2="364.7" y1="383.88" y2="383.88" stroke="#6a5a4a" stroke-width="0.35"/>
<text x="206.20" y="390.12" font-size="6.7" text-anchor="middle" font-weight="normal" fill="#14507a" >High</text>
<text x="311.65" y="390.12" font-size="6.7" text-anchor="middle" font-weight="normal" fill="#14507a" >High</text>
<rect x="151.8" y="390.33" width="212.90" height="6.45" fill="#e88a1e"/>
<line x1="151.8" x2="364.7" y1="390.33" y2="390.33" stroke="#6a5a4a" stroke-width="0.35"/>
<text x="206.20" y="396.57" font-size="6.7" text-anchor="middle" font-weight="normal" fill="#6b3305" >Low</text>
<text x="311.65" y="396.57" font-size="6.7" text-anchor="middle" font-weight="normal" fill="#6b3305" >Low</text>
<rect x="151.8" y="396.77" width="212.90" height="6.45" fill="#d1686f"/>
<line x1="151.8" x2="364.7" y1="396.77" y2="396.77" stroke="#6a5a4a" stroke-width="0.35"/>
<text x="206.20" y="403.02" font-size="6.7" text-anchor="middle" font-weight="normal" fill="#6e2030" >Low</text>
<text x="311.65" y="403.02" font-size="6.7" text-anchor="middle" font-weight="normal" fill="#6e2030" >High</text>
<rect x="151.8" y="403.22" width="212.90" height="6.45" fill="#e88a1e"/>
<line x1="151.8" x2="364.7" y1="403.22" y2="403.22" stroke="#6a5a4a" stroke-width="0.35"/>
<text x="206.20" y="409.46" font-size="6.7" text-anchor="middle" font-weight="normal" fill="#6b3305" >Low</text>
<text x="311.65" y="409.46" font-size="6.7" text-anchor="middle" font-weight="normal" fill="#6b3305" >Low</text>
<rect x="151.8" y="409.66" width="212.90" height="6.45" fill="#80d0bd"/>
<line x1="151.8" x2="364.7" y1="409.66" y2="409.66" stroke="#6a5a4a" stroke-width="0.35"/>
<text x="206.20" y="415.91" font-size="6.7" text-anchor="middle" font-weight="normal" fill="#1f6b66" >High</text>
<text x="311.65" y="415.91" font-size="6.7" text-anchor="middle" font-weight="normal" fill="#1f6b66" >Low</text>
<rect x="151.8" y="416.11" width="212.90" height="6.45" fill="#e88a1e"/>
<line x1="151.8" x2="364.7" y1="416.11" y2="416.11" stroke="#6a5a4a" stroke-width="0.35"/>
<text x="206.20" y="422.35" font-size="6.7" text-anchor="middle" font-weight="normal" fill="#6b3305" >Low</text>
<text x="311.65" y="422.35" font-size="6.7" text-anchor="middle" font-weight="normal" fill="#6b3305" >Low</text>
<rect x="151.8" y="422.55" width="212.90" height="6.45" fill="#52bbf0"/>
<line x1="151.8" x2="364.7" y1="422.55" y2="422.55" stroke="#6a5a4a" stroke-width="0.35"/>
<text x="206.20" y="428.80" font-size="6.7" text-anchor="middle" font-weight="normal" fill="#14507a" >High</text>
<text x="311.65" y="428.80" font-size="6.7" text-anchor="middle" font-weight="normal" fill="#14507a" >High</text>
<rect x="151.8" y="429.00" width="212.90" height="6.45" fill="#e88a1e"/>
<line x1="151.8" x2="364.7" y1="429.00" y2="429.00" stroke="#6a5a4a" stroke-width="0.35"/>
<text x="206.20" y="435.24" font-size="6.7" text-anchor="middle" font-weight="normal" fill="#6b3305" >Low</text>
<text x="311.65" y="435.24" font-size="6.7" text-anchor="middle" font-weight="normal" fill="#6b3305" >Low</text>
<rect x="151.8" y="435.44" width="212.90" height="6.45" fill="#d1686f"/>
<line x1="151.8" x2="364.7" y1="435.44" y2="435.44" stroke="#6a5a4a" stroke-width="0.35"/>
<text x="206.20" y="441.69" font-size="6.7" text-anchor="middle" font-weight="normal" fill="#6e2030" >Low</text>
<text x="311.65" y="441.69" font-size="6.7" text-anchor="middle" font-weight="normal" fill="#6e2030" >High</text>
<rect x="151.8" y="441.88" width="212.90" height="6.45" fill="#e88a1e"/>
<line x1="151.8" x2="364.7" y1="441.88" y2="441.88" stroke="#6a5a4a" stroke-width="0.35"/>
<text x="206.20" y="448.13" font-size="6.7" text-anchor="middle" font-weight="normal" fill="#6b3305" >Low</text>
<text x="311.65" y="448.13" font-size="6.7" text-anchor="middle" font-weight="normal" fill="#6b3305" >Low</text>
<rect x="151.8" y="448.33" width="212.90" height="6.45" fill="#80d0bd"/>
<line x1="151.8" x2="364.7" y1="448.33" y2="448.33" stroke="#6a5a4a" stroke-width="0.35"/>
<text x="206.20" y="454.58" font-size="6.7" text-anchor="middle" font-weight="normal" fill="#1f6b66" >High</text>
<text x="311.65" y="454.58" font-size="6.7" text-anchor="middle" font-weight="normal" fill="#1f6b66" >Low</text>
<rect x="151.8" y="454.78" width="212.90" height="6.45" fill="#e88a1e"/>
<line x1="151.8" x2="364.7" y1="454.78" y2="454.78" stroke="#6a5a4a" stroke-width="0.35"/>
<text x="206.20" y="461.02" font-size="6.7" text-anchor="middle" font-weight="normal" fill="#6b3305" >Low</text>
<text x="311.65" y="461.02" font-size="6.7" text-anchor="middle" font-weight="normal" fill="#6b3305" >Low</text>
<rect x="151.8" y="461.22" width="212.90" height="6.45" fill="#52bbf0"/>
<line x1="151.8" x2="364.7" y1="461.22" y2="461.22" stroke="#6a5a4a" stroke-width="0.35"/>
<text x="206.20" y="467.47" font-size="6.7" text-anchor="middle" font-weight="normal" fill="#14507a" >High</text>
<text x="311.65" y="467.47" font-size="6.7" text-anchor="middle" font-weight="normal" fill="#14507a" >High</text>
<rect x="151.8" y="467.67" width="212.90" height="6.45" fill="#e88a1e"/>
<line x1="151.8" x2="364.7" y1="467.67" y2="467.67" stroke="#6a5a4a" stroke-width="0.35"/>
<text x="206.20" y="473.91" font-size="6.7" text-anchor="middle" font-weight="normal" fill="#6b3305" >Low</text>
<text x="311.65" y="473.91" font-size="6.7" text-anchor="middle" font-weight="normal" fill="#6b3305" >Low</text>
<text x="420.25" y="365.94" font-size="6.7" text-anchor="middle" font-weight="normal" fill="#222" >0.43 (0.20–0.95)</text>
<line x1="364.7" x2="469.8" y1="370.99" y2="370.99" stroke="#a8a8a8" stroke-width="0.8"/>
<text x="420.25" y="378.83" font-size="6.7" text-anchor="middle" font-weight="normal" fill="#222" >0.34 (0.14–0.83)</text>
<line x1="364.7" x2="469.8" y1="383.88" y2="383.88" stroke="#a8a8a8" stroke-width="0.8"/>
<text x="420.25" y="391.72" font-size="6.7" text-anchor="middle" font-weight="normal" fill="#222" >0.23 (0.11–0.48)</text>
<line x1="364.7" x2="469.8" y1="396.77" y2="396.77" stroke="#a8a8a8" stroke-width="0.8"/>
<text x="420.25" y="404.62" font-size="6.7" text-anchor="middle" font-weight="normal" fill="#222" >0.42 (0.20–0.91)</text>
<line x1="364.7" x2="469.8" y1="409.66" y2="409.66" stroke="#a8a8a8" stroke-width="0.8"/>
<text x="420.25" y="417.50" font-size="6.7" text-anchor="middle" font-weight="normal" fill="#222" >0.45 (0.21–0.99)</text>
<line x1="364.7" x2="469.8" y1="422.55" y2="422.55" stroke="#a8a8a8" stroke-width="0.8"/>
<text x="420.25" y="430.39" font-size="6.7" text-anchor="middle" font-weight="normal" fill="#222" >0.18 (0.06–0.48)</text>
<line x1="364.7" x2="469.8" y1="435.44" y2="435.44" stroke="#a8a8a8" stroke-width="0.8"/>
<text x="420.25" y="443.29" font-size="6.7" text-anchor="middle" font-weight="normal" fill="#222" >0.31 (0.14–0.69)</text>
<line x1="364.7" x2="469.8" y1="448.33" y2="448.33" stroke="#a8a8a8" stroke-width="0.8"/>
<text x="420.25" y="456.18" font-size="6.7" text-anchor="middle" font-weight="normal" fill="#222" >0.66 (0.29–1.52)</text>
<line x1="364.7" x2="469.8" y1="461.22" y2="461.22" stroke="#a8a8a8" stroke-width="0.8"/>
<text x="420.25" y="469.06" font-size="6.7" text-anchor="middle" font-weight="normal" fill="#222" >0.37 (0.19–0.69)</text>
<line x1="76.2" x2="469.8" y1="358.10" y2="358.10" stroke="#444" stroke-width="0.7"/>
<text x="80.00" y="365.40" font-size="6.8" text-anchor="start" font-weight="bold" fill="#222" >NIVO</text>
<line x1="76.2" x2="151.8" y1="396.77" y2="396.77" stroke="#444" stroke-width="0.7"/>
<text x="80.00" y="404.07" font-size="6.8" text-anchor="start" font-weight="bold" fill="#222" >NIVO+IPI</text>
<line x1="76.2" x2="151.8" y1="435.44" y2="435.44" stroke="#444" stroke-width="0.7"/>
<text x="80.00" y="442.74" font-size="6.8" text-anchor="start" font-weight="bold" fill="#222" >IPI</text>
<line x1="151.8" x2="151.8" y1="349.8" y2="474.11" stroke="#444" stroke-width="0.7"/>
<line x1="258.6" x2="258.6" y1="349.8" y2="474.11" stroke="#444" stroke-width="0.7"/>
<line x1="364.7" x2="364.7" y1="349.8" y2="474.11" stroke="#444" stroke-width="0.7"/>
<rect x="76.2" y="349.8" width="393.60" height="124.31" fill="none" stroke="#444" stroke-width="0.8"/>
<text x="80.00" y="356.40" font-size="6.8" text-anchor="start" font-weight="bold" fill="#222" >Treatment</text>
<text x="206.20" y="356.40" font-size="6.8" text-anchor="middle" font-weight="bold" fill="#222" >TMB class</text>
<text x="311.65" y="356.40" font-size="6.8" text-anchor="middle" font-weight="bold" fill="#222" >Inflammatory signature score</text>
<text x="420.25" y="356.40" font-size="6.85" text-anchor="middle" font-weight="bold" fill="#222" >PFS HR (95% CI)</text>
<text x="0.40" y="508.00" font-size="18" text-anchor="start" font-weight="bold" fill="#111" stroke="#111" stroke-width="0.5">C</text>
<text x="117.00" y="500.10" font-size="6.6" text-anchor="middle" font-weight="bold" fill="#222" >NIVO</text>
<line x1="32.599999999999994" x2="44.599999999999994" y1="509.4" y2="509.4" stroke="#e58a1f" stroke-width="1.1" />
<line x1="39.199999999999996" x2="39.199999999999996" y1="506.59999999999997" y2="512.1999999999999" stroke="#e58a1f" stroke-width="0.6" opacity="1"/>
<text x="48.10" y="511.70" font-size="6.7" text-anchor="start" font-weight="normal" fill="#222" >TMB low:GEP low</text>
<line x1="112.0" x2="124.0" y1="509.4" y2="509.4" stroke="#d8434c" stroke-width="0.85" stroke-dasharray="1.6 1.6"/>
<line x1="118.60000000000001" x2="118.60000000000001" y1="506.59999999999997" y2="512.1999999999999" stroke="#d8434c" stroke-width="0.6" opacity="0.7"/>
<text x="127.50" y="511.70" font-size="6.7" text-anchor="start" font-weight="normal" fill="#222" >TMB low:GEP high</text>
<line x1="32.599999999999994" x2="44.599999999999994" y1="517.6" y2="517.6" stroke="#6cc4ad" stroke-width="0.85" stroke-dasharray="3.6 2.6"/>
<line x1="39.199999999999996" x2="39.199999999999996" y1="514.8000000000001" y2="520.4" stroke="#6cc4ad" stroke-width="0.6" opacity="0.7"/>
<text x="48.10" y="519.90" font-size="6.7" text-anchor="start" font-weight="normal" fill="#222" >TMB high:GEP low</text>
<line x1="112.0" x2="124.0" y1="517.6" y2="517.6" stroke="#58bdea" stroke-width="0.85" stroke-dasharray="3.6 2.6"/>
<line x1="118.60000000000001" x2="118.60000000000001" y1="514.8000000000001" y2="520.4" stroke="#58bdea" stroke-width="0.6" opacity="0.7"/>
<text x="127.50" y="519.90" font-size="6.7" text-anchor="start" font-weight="normal" fill="#222" >TMB high:GEP high</text>
<path d="M80.80000000000001 527.20L80.80000000000001 606.3L181.72 606.3" fill="none" stroke="#333" stroke-width="1.3"/>
<line x1="78.4" x2="80.80000000000001" y1="606.30" y2="606.30" stroke="#333" stroke-width="0.8"/>
<text x="78.40" y="608.70" font-size="6.5" text-anchor="end" font-weight="normal" fill="#222" >0</text>
<line x1="78.4" x2="80.80000000000001" y1="586.67" y2="586.67" stroke="#333" stroke-width="0.8"/>
<text x="78.40" y="589.07" font-size="6.5" text-anchor="end" font-weight="normal" fill="#222" >25</text>
<line x1="78.4" x2="80.80000000000001" y1="567.05" y2="567.05" stroke="#333" stroke-width="0.8"/>
<text x="78.40" y="569.45" font-size="6.5" text-anchor="end" font-weight="normal" fill="#222" >50</text>
<line x1="78.4" x2="80.80000000000001" y1="547.42" y2="547.42" stroke="#333" stroke-width="0.8"/>
<text x="78.40" y="549.82" font-size="6.5" text-anchor="end" font-weight="normal" fill="#222" >75</text>
<line x1="78.4" x2="80.80000000000001" y1="527.80" y2="527.80" stroke="#333" stroke-width="0.8"/>
<text x="78.40" y="530.20" font-size="6.5" text-anchor="end" font-weight="normal" fill="#222" >100</text>
<line x1="81.40" x2="81.40" y1="606.3" y2="608.5" stroke="#333" stroke-width="0.8"/>
<text x="81.10" y="614.00" font-size="6.5" text-anchor="middle" font-weight="normal" fill="#222" >0</text>
<line x1="98.07" x2="98.07" y1="606.3" y2="608.5" stroke="#333" stroke-width="0.8"/>
<text x="97.77" y="614.00" font-size="6.5" text-anchor="middle" font-weight="normal" fill="#222" >10</text>
<line x1="114.74" x2="114.74" y1="606.3" y2="608.5" stroke="#333" stroke-width="0.8"/>
<text x="114.44" y="614.00" font-size="6.5" text-anchor="middle" font-weight="normal" fill="#222" >20</text>
<line x1="131.41" x2="131.41" y1="606.3" y2="608.5" stroke="#333" stroke-width="0.8"/>
<text x="131.11" y="614.00" font-size="6.5" text-anchor="middle" font-weight="normal" fill="#222" >30</text>
<line x1="148.08" x2="148.08" y1="606.3" y2="608.5" stroke="#333" stroke-width="0.8"/>
<text x="147.78" y="614.00" font-size="6.5" text-anchor="middle" font-weight="normal" fill="#222" >40</text>
<line x1="164.75" x2="164.75" y1="606.3" y2="608.5" stroke="#333" stroke-width="0.8"/>
<text x="164.45" y="614.00" font-size="6.5" text-anchor="middle" font-weight="normal" fill="#222" >50</text>
<line x1="181.42" x2="181.42" y1="606.3" y2="608.5" stroke="#333" stroke-width="0.8"/>
<text x="181.12" y="614.00" font-size="6.5" text-anchor="middle" font-weight="normal" fill="#222" >60</text>
<text x="132.41" y="621.60" font-size="6.9" text-anchor="middle" font-weight="bold" fill="#222" >Months</text>
<text transform="translate(62.50,567.05) rotate(-90)" font-size="6.9" text-anchor="middle" font-weight="bold" fill="#222">OS (%)</text>
<path d="M81.40 527.80H83.90V530.15H90.57V533.29H97.90V536.67H110.74V540.75H135.24V544.28H142.58V546.88H174.25V546.88" fill="none" stroke="#58bdea" stroke-width="0.8" stroke-dasharray="4.5 2.5"/>
<line x1="156.08" x2="156.08" y1="543.78" y2="549.98" stroke="#58bdea" stroke-width="0.7"/>
<line x1="160.75" x2="160.75" y1="543.78" y2="549.98" stroke="#58bdea" stroke-width="0.7"/>
<line x1="162.75" x2="162.75" y1="543.78" y2="549.98" stroke="#58bdea" stroke-width="0.7"/>
<line x1="164.08" x2="164.08" y1="543.78" y2="549.98" stroke="#58bdea" stroke-width="0.7"/>
<line x1="165.42" x2="165.42" y1="543.78" y2="549.98" stroke="#58bdea" stroke-width="0.7"/>
<line x1="166.75" x2="166.75" y1="543.78" y2="549.98" stroke="#58bdea" stroke-width="0.7"/>
<line x1="168.92" x2="168.92" y1="543.78" y2="549.98" stroke="#58bdea" stroke-width="0.7"/>
<line x1="170.92" x2="170.92" y1="543.78" y2="549.98" stroke="#58bdea" stroke-width="0.7"/>
<line x1="174.25" x2="174.25" y1="543.78" y2="549.98" stroke="#58bdea" stroke-width="0.7"/>
<path d="M81.40 527.80H83.90V530.94H87.90V534.87H92.57V542.09H93.90V549.00H98.57V555.67H103.40V563.44H143.91V570.66H170.25V570.66" fill="none" stroke="#6cc4ad" stroke-width="0.8" stroke-dasharray="3.6 1.8"/>
<line x1="168.92" x2="168.92" y1="567.56" y2="573.76" stroke="#6cc4ad" stroke-width="0.7"/>
<line x1="170.25" x2="170.25" y1="567.56" y2="573.76" stroke="#6cc4ad" stroke-width="0.7"/>
<path d="M81.40 527.80H89.90V534.08H104.74V537.22H107.41V540.36H108.41V543.50H109.41V546.64H110.07V550.56H110.74V553.70H166.75V553.70" fill="none" stroke="#d8434c" stroke-width="0.8" stroke-dasharray="1.6 1.6"/>
<line x1="164.08" x2="164.08" y1="550.60" y2="556.80" stroke="#d8434c" stroke-width="0.7"/>
<line x1="165.42" x2="165.42" y1="550.60" y2="556.80" stroke="#d8434c" stroke-width="0.7"/>
<line x1="166.75" x2="166.75" y1="550.60" y2="556.80" stroke="#d8434c" stroke-width="0.7"/>
<path d="M81.40 527.80H82.48V533.29H83.82V537.22H85.23V540.05H87.23V544.28H89.23V548.21H90.57V552.13H91.90V555.67H93.24V558.41H94.57V560.77H99.24V563.12H100.74V566.58H102.74V570.19H106.74V574.90H108.74V578.82H114.07V582.20H128.08V584.95H141.25V587.70H143.91V590.36H148.08V593.74H174.25V593.74" fill="none" stroke="#e58a1f" stroke-width="1.2" />
<line x1="164.75" x2="164.75" y1="590.64" y2="596.84" stroke="#e58a1f" stroke-width="0.7"/>
<line x1="166.08" x2="166.08" y1="590.64" y2="596.84" stroke="#e58a1f" stroke-width="0.7"/>
<line x1="174.25" x2="174.25" y1="590.64" y2="596.84" stroke="#e58a1f" stroke-width="0.7"/>
<text x="74.10" y="627.90" font-size="5.5" text-anchor="end" font-weight="bold" fill="#222" >No. at risk</text>
<text x="73.70" y="635.00" font-size="5.5" text-anchor="end" font-weight="normal" fill="#e0922f" >TMB low:GEP low</text>
<text x="80.70" y="635.00" font-size="5.9" text-anchor="middle" font-weight="normal" fill="#333" >27</text>
<text x="97.37" y="635.00" font-size="5.9" text-anchor="middle" font-weight="normal" fill="#333" >15</text>
<text x="114.04" y="635.00" font-size="5.9" text-anchor="middle" font-weight="normal" fill="#333" >8</text>
<text x="130.71" y="635.00" font-size="5.9" text-anchor="middle" font-weight="normal" fill="#333" >7</text>
<text x="147.38" y="635.00" font-size="5.9" text-anchor="middle" font-weight="normal" fill="#333" >5</text>
<text x="164.05" y="635.00" font-size="5.9" text-anchor="middle" font-weight="normal" fill="#333" >3</text>
<text x="180.72" y="635.00" font-size="5.9" text-anchor="middle" font-weight="normal" fill="#333" >0</text>
<text x="73.70" y="641.96" font-size="5.5" text-anchor="end" font-weight="normal" fill="#d4606a" >TMB low:GEP high</text>
<text x="80.70" y="641.96" font-size="5.9" text-anchor="middle" font-weight="normal" fill="#333" >13</text>
<text x="97.37" y="641.96" font-size="5.9" text-anchor="middle" font-weight="normal" fill="#333" >11</text>
<text x="114.04" y="641.96" font-size="5.9" text-anchor="middle" font-weight="normal" fill="#333" >8</text>
<text x="130.71" y="641.96" font-size="5.9" text-anchor="middle" font-weight="normal" fill="#333" >8</text>
<text x="147.38" y="641.96" font-size="5.9" text-anchor="middle" font-weight="normal" fill="#333" >8</text>
<text x="164.05" y="641.96" font-size="5.9" text-anchor="middle" font-weight="normal" fill="#333" >6</text>
<text x="180.72" y="641.96" font-size="5.9" text-anchor="middle" font-weight="normal" fill="#333" >0</text>
<text x="73.70" y="648.92" font-size="5.5" text-anchor="end" font-weight="normal" fill="#7fcdb8" >TMB high:GEP low</text>
<text x="80.70" y="648.92" font-size="5.9" text-anchor="middle" font-weight="normal" fill="#333" >11</text>
<text x="97.37" y="648.92" font-size="5.9" text-anchor="middle" font-weight="normal" fill="#333" >8</text>
<text x="114.04" y="648.92" font-size="5.9" text-anchor="middle" font-weight="normal" fill="#333" >6</text>
<text x="130.71" y="648.92" font-size="5.9" text-anchor="middle" font-weight="normal" fill="#333" >6</text>
<text x="147.38" y="648.92" font-size="5.9" text-anchor="middle" font-weight="normal" fill="#333" >5</text>
<text x="164.05" y="648.92" font-size="5.9" text-anchor="middle" font-weight="normal" fill="#333" >5</text>
<text x="180.72" y="648.92" font-size="5.9" text-anchor="middle" font-weight="normal" fill="#333" >0</text>
<text x="73.70" y="655.88" font-size="5.5" text-anchor="end" font-weight="normal" fill="#6fc6ee" >TMB high:GEP high</text>
<text x="80.70" y="655.88" font-size="5.9" text-anchor="middle" font-weight="normal" fill="#333" >24</text>
<text x="97.37" y="655.88" font-size="5.9" text-anchor="middle" font-weight="normal" fill="#333" >21</text>
<text x="114.04" y="655.88" font-size="5.9" text-anchor="middle" font-weight="normal" fill="#333" >20</text>
<text x="130.71" y="655.88" font-size="5.9" text-anchor="middle" font-weight="normal" fill="#333" >20</text>
<text x="147.38" y="655.88" font-size="5.9" text-anchor="middle" font-weight="normal" fill="#333" >18</text>
<text x="164.05" y="655.88" font-size="5.9" text-anchor="middle" font-weight="normal" fill="#333" >14</text>
<text x="180.72" y="655.88" font-size="5.9" text-anchor="middle" font-weight="normal" fill="#333" >0</text>
<text x="280.50" y="500.10" font-size="6.6" text-anchor="middle" font-weight="bold" fill="#222" >NIVO+IPI</text>
<line x1="198.60000000000002" x2="210.60000000000002" y1="509.4" y2="509.4" stroke="#e58a1f" stroke-width="1.1" />
<line x1="205.20000000000002" x2="205.20000000000002" y1="506.59999999999997" y2="512.1999999999999" stroke="#e58a1f" stroke-width="0.6" opacity="1"/>
<text x="214.10" y="511.70" font-size="6.7" text-anchor="start" font-weight="normal" fill="#222" >TMB low:GEP low</text>
<line x1="277.6" x2="289.6" y1="509.4" y2="509.4" stroke="#d8434c" stroke-width="0.85" stroke-dasharray="1.6 1.6"/>
<line x1="284.2" x2="284.2" y1="506.59999999999997" y2="512.1999999999999" stroke="#d8434c" stroke-width="0.6" opacity="0.7"/>
<text x="293.10" y="511.70" font-size="6.7" text-anchor="start" font-weight="normal" fill="#222" >TMB low:GEP high</text>
<line x1="198.60000000000002" x2="210.60000000000002" y1="517.6" y2="517.6" stroke="#6cc4ad" stroke-width="0.85" stroke-dasharray="3.6 2.6"/>
<line x1="205.20000000000002" x2="205.20000000000002" y1="514.8000000000001" y2="520.4" stroke="#6cc4ad" stroke-width="0.6" opacity="0.7"/>
<text x="214.10" y="519.90" font-size="6.7" text-anchor="start" font-weight="normal" fill="#222" >TMB high:GEP low</text>
<line x1="277.6" x2="289.6" y1="517.6" y2="517.6" stroke="#58bdea" stroke-width="0.85" stroke-dasharray="3.6 2.6"/>
<line x1="284.2" x2="284.2" y1="514.8000000000001" y2="520.4" stroke="#58bdea" stroke-width="0.6" opacity="0.7"/>
<text x="293.10" y="519.90" font-size="6.7" text-anchor="start" font-weight="normal" fill="#222" >TMB high:GEP high</text>
<path d="M246.8 527.20L246.8 606.3L347.72 606.3" fill="none" stroke="#333" stroke-width="1.3"/>
<line x1="244.4" x2="246.8" y1="606.30" y2="606.30" stroke="#333" stroke-width="0.8"/>
<text x="244.40" y="608.70" font-size="6.5" text-anchor="end" font-weight="normal" fill="#222" >0</text>
<line x1="244.4" x2="246.8" y1="586.67" y2="586.67" stroke="#333" stroke-width="0.8"/>
<text x="244.40" y="589.07" font-size="6.5" text-anchor="end" font-weight="normal" fill="#222" >25</text>
<line x1="244.4" x2="246.8" y1="567.05" y2="567.05" stroke="#333" stroke-width="0.8"/>
<text x="244.40" y="569.45" font-size="6.5" text-anchor="end" font-weight="normal" fill="#222" >50</text>
<line x1="244.4" x2="246.8" y1="547.42" y2="547.42" stroke="#333" stroke-width="0.8"/>
<text x="244.40" y="549.82" font-size="6.5" text-anchor="end" font-weight="normal" fill="#222" >75</text>
<line x1="244.4" x2="246.8" y1="527.80" y2="527.80" stroke="#333" stroke-width="0.8"/>
<text x="244.40" y="530.20" font-size="6.5" text-anchor="end" font-weight="normal" fill="#222" >100</text>
<line x1="247.40" x2="247.40" y1="606.3" y2="608.5" stroke="#333" stroke-width="0.8"/>
<text x="247.10" y="614.00" font-size="6.5" text-anchor="middle" font-weight="normal" fill="#222" >0</text>
<line x1="264.07" x2="264.07" y1="606.3" y2="608.5" stroke="#333" stroke-width="0.8"/>
<text x="263.77" y="614.00" font-size="6.5" text-anchor="middle" font-weight="normal" fill="#222" >10</text>
<line x1="280.74" x2="280.74" y1="606.3" y2="608.5" stroke="#333" stroke-width="0.8"/>
<text x="280.44" y="614.00" font-size="6.5" text-anchor="middle" font-weight="normal" fill="#222" >20</text>
<line x1="297.41" x2="297.41" y1="606.3" y2="608.5" stroke="#333" stroke-width="0.8"/>
<text x="297.11" y="614.00" font-size="6.5" text-anchor="middle" font-weight="normal" fill="#222" >30</text>
<line x1="314.08" x2="314.08" y1="606.3" y2="608.5" stroke="#333" stroke-width="0.8"/>
<text x="313.78" y="614.00" font-size="6.5" text-anchor="middle" font-weight="normal" fill="#222" >40</text>
<line x1="330.75" x2="330.75" y1="606.3" y2="608.5" stroke="#333" stroke-width="0.8"/>
<text x="330.45" y="614.00" font-size="6.5" text-anchor="middle" font-weight="normal" fill="#222" >50</text>
<line x1="347.42" x2="347.42" y1="606.3" y2="608.5" stroke="#333" stroke-width="0.8"/>
<text x="347.12" y="614.00" font-size="6.5" text-anchor="middle" font-weight="normal" fill="#222" >60</text>
<text x="298.41" y="621.60" font-size="6.9" text-anchor="middle" font-weight="bold" fill="#222" >Months</text>
<text transform="translate(228.50,567.05) rotate(-90)" font-size="6.9" text-anchor="middle" font-weight="bold" fill="#222">OS (%)</text>
<path d="M247.40 527.80H251.23V529.37H252.57V532.51H258.57V537.22H276.07V542.09H318.75V546.88H340.25V546.88" fill="none" stroke="#58bdea" stroke-width="0.8" stroke-dasharray="4.5 2.5"/>
<line x1="318.75" x2="318.75" y1="542.36" y2="548.56" stroke="#58bdea" stroke-width="0.7"/>
<line x1="326.75" x2="326.75" y1="543.78" y2="549.98" stroke="#58bdea" stroke-width="0.7"/>
<line x1="331.42" x2="331.42" y1="543.78" y2="549.98" stroke="#58bdea" stroke-width="0.7"/>
<line x1="332.75" x2="332.75" y1="543.78" y2="549.98" stroke="#58bdea" stroke-width="0.7"/>
<line x1="334.08" x2="334.08" y1="543.78" y2="549.98" stroke="#58bdea" stroke-width="0.7"/>
<line x1="335.42" x2="335.42" y1="543.78" y2="549.98" stroke="#58bdea" stroke-width="0.7"/>
<line x1="336.92" x2="336.92" y1="543.78" y2="549.98" stroke="#58bdea" stroke-width="0.7"/>
<line x1="340.25" x2="340.25" y1="543.78" y2="549.98" stroke="#58bdea" stroke-width="0.7"/>
<path d="M247.40 527.80H249.90V531.72H254.07V535.65H259.24V540.36H262.57V543.50H264.57V547.42H266.74V552.13H268.74V556.84H298.41V561.79H313.25V567.29H340.75V567.29" fill="none" stroke="#6cc4ad" stroke-width="0.8" stroke-dasharray="3.6 1.8"/>
<line x1="332.08" x2="332.08" y1="564.19" y2="570.39" stroke="#6cc4ad" stroke-width="0.7"/>
<line x1="333.42" x2="333.42" y1="564.19" y2="570.39" stroke="#6cc4ad" stroke-width="0.7"/>
<line x1="335.42" x2="335.42" y1="564.19" y2="570.39" stroke="#6cc4ad" stroke-width="0.7"/>
<line x1="338.75" x2="338.75" y1="564.19" y2="570.39" stroke="#6cc4ad" stroke-width="0.7"/>
<line x1="340.75" x2="340.75" y1="564.19" y2="570.39" stroke="#6cc4ad" stroke-width="0.7"/>
<path d="M247.40 527.80H249.40V531.72H251.40V535.65H253.07V539.57H254.57V543.50H255.90V547.50H279.41V552.29H336.92V552.29" fill="none" stroke="#d8434c" stroke-width="0.8" stroke-dasharray="1.6 1.6"/>
<line x1="328.08" x2="328.08" y1="549.19" y2="555.39" stroke="#d8434c" stroke-width="0.7"/>
<line x1="330.75" x2="330.75" y1="549.19" y2="555.39" stroke="#d8434c" stroke-width="0.7"/>
<line x1="332.75" x2="332.75" y1="549.19" y2="555.39" stroke="#d8434c" stroke-width="0.7"/>
<line x1="334.08" x2="334.08" y1="549.19" y2="555.39" stroke="#d8434c" stroke-width="0.7"/>
<line x1="335.42" x2="335.42" y1="549.19" y2="555.39" stroke="#d8434c" stroke-width="0.7"/>
<line x1="336.92" x2="336.92" y1="549.19" y2="555.39" stroke="#d8434c" stroke-width="0.7"/>
<path d="M247.40 527.80H249.15V532.51H250.57V536.67H253.23V540.36H253.90V543.50H254.57V549.78H255.23V554.49H255.90V559.20H257.90V563.12H264.57V567.29H265.90V570.97H267.40V574.90H292.24V578.82H293.58V582.75H296.24V586.99H334.75V586.99" fill="none" stroke="#e58a1f" stroke-width="1.2" />
<line x1="316.25" x2="316.25" y1="583.89" y2="590.09" stroke="#e58a1f" stroke-width="0.7"/>
<line x1="332.08" x2="332.08" y1="583.89" y2="590.09" stroke="#e58a1f" stroke-width="0.7"/>
<line x1="334.58" x2="334.58" y1="583.89" y2="590.09" stroke="#e58a1f" stroke-width="0.7"/>
<text x="240.10" y="627.90" font-size="5.5" text-anchor="end" font-weight="bold" fill="#222" >No. at risk</text>
<text x="239.70" y="635.00" font-size="5.5" text-anchor="end" font-weight="normal" fill="#e0922f" >TMB low:GEP low</text>
<text x="246.70" y="635.00" font-size="5.9" text-anchor="middle" font-weight="normal" fill="#333" >20</text>
<text x="263.37" y="635.00" font-size="5.9" text-anchor="middle" font-weight="normal" fill="#333" >10</text>
<text x="280.04" y="635.00" font-size="5.9" text-anchor="middle" font-weight="normal" fill="#333" >8</text>
<text x="296.71" y="635.00" font-size="5.9" text-anchor="middle" font-weight="normal" fill="#333" >5</text>
<text x="313.38" y="635.00" font-size="5.9" text-anchor="middle" font-weight="normal" fill="#333" >5</text>
<text x="330.05" y="635.00" font-size="5.9" text-anchor="middle" font-weight="normal" fill="#333" >4</text>
<text x="346.72" y="635.00" font-size="5.9" text-anchor="middle" font-weight="normal" fill="#333" >0</text>
<text x="239.70" y="641.96" font-size="5.5" text-anchor="end" font-weight="normal" fill="#d4606a" >TMB low:GEP high</text>
<text x="246.70" y="641.96" font-size="5.9" text-anchor="middle" font-weight="normal" fill="#333" >17</text>
<text x="263.37" y="641.96" font-size="5.9" text-anchor="middle" font-weight="normal" fill="#333" >12</text>
<text x="280.04" y="641.96" font-size="5.9" text-anchor="middle" font-weight="normal" fill="#333" >11</text>
<text x="296.71" y="641.96" font-size="5.9" text-anchor="middle" font-weight="normal" fill="#333" >11</text>
<text x="313.38" y="641.96" font-size="5.9" text-anchor="middle" font-weight="normal" fill="#333" >11</text>
<text x="330.05" y="641.96" font-size="5.9" text-anchor="middle" font-weight="normal" fill="#333" >9</text>
<text x="346.72" y="641.96" font-size="5.9" text-anchor="middle" font-weight="normal" fill="#333" >0</text>
<text x="239.70" y="648.92" font-size="5.5" text-anchor="end" font-weight="normal" fill="#7fcdb8" >TMB high:GEP low</text>
<text x="246.70" y="648.92" font-size="5.9" text-anchor="middle" font-weight="normal" fill="#333" >16</text>
<text x="263.37" y="648.92" font-size="5.9" text-anchor="middle" font-weight="normal" fill="#333" >12</text>
<text x="280.04" y="648.92" font-size="5.9" text-anchor="middle" font-weight="normal" fill="#333" >10</text>
<text x="296.71" y="648.92" font-size="5.9" text-anchor="middle" font-weight="normal" fill="#333" >10</text>
<text x="313.38" y="648.92" font-size="5.9" text-anchor="middle" font-weight="normal" fill="#333" >8</text>
<text x="330.05" y="648.92" font-size="5.9" text-anchor="middle" font-weight="normal" fill="#333" >8</text>
<text x="346.72" y="648.92" font-size="5.9" text-anchor="middle" font-weight="normal" fill="#333" >0</text>
<text x="239.70" y="655.88" font-size="5.5" text-anchor="end" font-weight="normal" fill="#6fc6ee" >TMB high:GEP high</text>
<text x="246.70" y="655.88" font-size="5.9" text-anchor="middle" font-weight="normal" fill="#333" >18</text>
<text x="263.37" y="655.88" font-size="5.9" text-anchor="middle" font-weight="normal" fill="#333" >14</text>
<text x="280.04" y="655.88" font-size="5.9" text-anchor="middle" font-weight="normal" fill="#333" >13</text>
<text x="296.71" y="655.88" font-size="5.9" text-anchor="middle" font-weight="normal" fill="#333" >13</text>
<text x="313.38" y="655.88" font-size="5.9" text-anchor="middle" font-weight="normal" fill="#333" >13</text>
<text x="330.05" y="655.88" font-size="5.9" text-anchor="middle" font-weight="normal" fill="#333" >11</text>
<text x="346.72" y="655.88" font-size="5.9" text-anchor="middle" font-weight="normal" fill="#333" >0</text>
<text x="448.00" y="500.10" font-size="6.6" text-anchor="middle" font-weight="bold" fill="#222" >IPI</text>
<line x1="365.6" x2="377.6" y1="509.4" y2="509.4" stroke="#e58a1f" stroke-width="1.1" />
<line x1="372.2" x2="372.2" y1="506.59999999999997" y2="512.1999999999999" stroke="#e58a1f" stroke-width="0.6" opacity="1"/>
<text x="381.10" y="511.70" font-size="6.7" text-anchor="start" font-weight="normal" fill="#222" >TMB low:GEP low</text>
<line x1="444.6" x2="456.6" y1="509.4" y2="509.4" stroke="#d8434c" stroke-width="0.85" stroke-dasharray="1.6 1.6"/>
<line x1="451.2" x2="451.2" y1="506.59999999999997" y2="512.1999999999999" stroke="#d8434c" stroke-width="0.6" opacity="0.7"/>
<text x="460.10" y="511.70" font-size="6.7" text-anchor="start" font-weight="normal" fill="#222" >TMB low:GEP high</text>
<line x1="365.6" x2="377.6" y1="517.6" y2="517.6" stroke="#6cc4ad" stroke-width="0.85" stroke-dasharray="3.6 2.6"/>
<line x1="372.2" x2="372.2" y1="514.8000000000001" y2="520.4" stroke="#6cc4ad" stroke-width="0.6" opacity="0.7"/>
<text x="381.10" y="519.90" font-size="6.7" text-anchor="start" font-weight="normal" fill="#222" >TMB high:GEP low</text>
<line x1="444.6" x2="456.6" y1="517.6" y2="517.6" stroke="#58bdea" stroke-width="0.85" stroke-dasharray="3.6 2.6"/>
<line x1="451.2" x2="451.2" y1="514.8000000000001" y2="520.4" stroke="#58bdea" stroke-width="0.6" opacity="0.7"/>
<text x="460.10" y="519.90" font-size="6.7" text-anchor="start" font-weight="normal" fill="#222" >TMB high:GEP high</text>
<path d="M412.9 527.20L412.9 606.3L513.82 606.3" fill="none" stroke="#333" stroke-width="1.3"/>
<line x1="410.5" x2="412.9" y1="606.30" y2="606.30" stroke="#333" stroke-width="0.8"/>
<text x="410.50" y="608.70" font-size="6.5" text-anchor="end" font-weight="normal" fill="#222" >0</text>
<line x1="410.5" x2="412.9" y1="586.67" y2="586.67" stroke="#333" stroke-width="0.8"/>
<text x="410.50" y="589.07" font-size="6.5" text-anchor="end" font-weight="normal" fill="#222" >25</text>
<line x1="410.5" x2="412.9" y1="567.05" y2="567.05" stroke="#333" stroke-width="0.8"/>
<text x="410.50" y="569.45" font-size="6.5" text-anchor="end" font-weight="normal" fill="#222" >50</text>
<line x1="410.5" x2="412.9" y1="547.42" y2="547.42" stroke="#333" stroke-width="0.8"/>
<text x="410.50" y="549.82" font-size="6.5" text-anchor="end" font-weight="normal" fill="#222" >75</text>
<line x1="410.5" x2="412.9" y1="527.80" y2="527.80" stroke="#333" stroke-width="0.8"/>
<text x="410.50" y="530.20" font-size="6.5" text-anchor="end" font-weight="normal" fill="#222" >100</text>
<line x1="413.50" x2="413.50" y1="606.3" y2="608.5" stroke="#333" stroke-width="0.8"/>
<text x="413.20" y="614.00" font-size="6.5" text-anchor="middle" font-weight="normal" fill="#222" >0</text>
<line x1="430.17" x2="430.17" y1="606.3" y2="608.5" stroke="#333" stroke-width="0.8"/>
<text x="429.87" y="614.00" font-size="6.5" text-anchor="middle" font-weight="normal" fill="#222" >10</text>
<line x1="446.84" x2="446.84" y1="606.3" y2="608.5" stroke="#333" stroke-width="0.8"/>
<text x="446.54" y="614.00" font-size="6.5" text-anchor="middle" font-weight="normal" fill="#222" >20</text>
<line x1="463.51" x2="463.51" y1="606.3" y2="608.5" stroke="#333" stroke-width="0.8"/>
<text x="463.21" y="614.00" font-size="6.5" text-anchor="middle" font-weight="normal" fill="#222" >30</text>
<line x1="480.18" x2="480.18" y1="606.3" y2="608.5" stroke="#333" stroke-width="0.8"/>
<text x="479.88" y="614.00" font-size="6.5" text-anchor="middle" font-weight="normal" fill="#222" >40</text>
<line x1="496.85" x2="496.85" y1="606.3" y2="608.5" stroke="#333" stroke-width="0.8"/>
<text x="496.55" y="614.00" font-size="6.5" text-anchor="middle" font-weight="normal" fill="#222" >50</text>
<line x1="513.52" x2="513.52" y1="606.3" y2="608.5" stroke="#333" stroke-width="0.8"/>
<text x="513.22" y="614.00" font-size="6.5" text-anchor="middle" font-weight="normal" fill="#222" >60</text>
<text x="464.51" y="621.60" font-size="6.9" text-anchor="middle" font-weight="bold" fill="#222" >Months</text>
<text transform="translate(394.60,567.05) rotate(-90)" font-size="6.9" text-anchor="middle" font-weight="bold" fill="#222">OS (%)</text>
<path d="M413.50 527.80H416.00V530.15H420.67V537.22H424.67V544.28H434.34V546.88H442.17V554.49H442.84V558.41H477.35V561.16H505.02V561.16" fill="none" stroke="#58bdea" stroke-width="0.8" stroke-dasharray="4.5 2.5"/>
<line x1="451.67" x2="451.67" y1="555.31" y2="561.51" stroke="#58bdea" stroke-width="0.7"/>
<line x1="477.35" x2="477.35" y1="556.88" y2="563.08" stroke="#58bdea" stroke-width="0.7"/>
<line x1="496.18" x2="496.18" y1="558.06" y2="564.26" stroke="#58bdea" stroke-width="0.7"/>
<line x1="497.52" x2="497.52" y1="558.06" y2="564.26" stroke="#58bdea" stroke-width="0.7"/>
<line x1="498.85" x2="498.85" y1="558.06" y2="564.26" stroke="#58bdea" stroke-width="0.7"/>
<line x1="500.18" x2="500.18" y1="558.06" y2="564.26" stroke="#58bdea" stroke-width="0.7"/>
<line x1="501.52" x2="501.52" y1="558.06" y2="564.26" stroke="#58bdea" stroke-width="0.7"/>
<line x1="505.02" x2="505.02" y1="558.06" y2="564.26" stroke="#58bdea" stroke-width="0.7"/>
<path d="M413.50 527.80H416.67V533.29H420.00V536.67H422.67V544.28H426.00V551.35H427.34V559.20H431.34V566.58H448.84V570.97H449.51V574.90H500.18V574.90" fill="none" stroke="#6cc4ad" stroke-width="0.8" stroke-dasharray="3.6 1.8"/>
<line x1="476.01" x2="476.01" y1="571.80" y2="578.00" stroke="#6cc4ad" stroke-width="0.7"/>
<line x1="498.18" x2="498.18" y1="571.80" y2="578.00" stroke="#6cc4ad" stroke-width="0.7"/>
<line x1="500.18" x2="500.18" y1="571.80" y2="578.00" stroke="#6cc4ad" stroke-width="0.7"/>
<path d="M413.50 527.80H422.67V533.29H436.17V536.67H440.84V539.57H441.51V549.00H442.17V557.63H442.84V566.58H459.18V568.62H461.18V572.00H474.01V574.90H477.35V578.12H492.85V583.53H502.18V583.53" fill="none" stroke="#d8434c" stroke-width="0.8" stroke-dasharray="1.6 1.6"/>
<line x1="496.18" x2="496.18" y1="580.43" y2="586.63" stroke="#d8434c" stroke-width="0.7"/>
<line x1="497.52" x2="497.52" y1="580.43" y2="586.63" stroke="#d8434c" stroke-width="0.7"/>
<line x1="500.18" x2="500.18" y1="580.43" y2="586.63" stroke="#d8434c" stroke-width="0.7"/>
<line x1="502.18" x2="502.18" y1="580.43" y2="586.63" stroke="#d8434c" stroke-width="0.7"/>
<path d="M413.50 527.80H414.58V532.51H415.92V535.96H417.33V540.36H418.00V544.28H419.33V548.21H420.67V551.59H421.33V555.27H426.67V559.20H428.00V563.12H430.00V566.58H431.34V570.66H435.50V574.90H436.84V578.82H438.84V582.75H444.84V586.67H456.01V590.60H461.84V594.21H463.18V598.29H506.85V598.29" fill="none" stroke="#e58a1f" stroke-width="1.2" />
<line x1="494.18" x2="494.18" y1="595.19" y2="601.39" stroke="#e58a1f" stroke-width="0.7"/>
<line x1="506.85" x2="506.85" y1="595.19" y2="601.39" stroke="#e58a1f" stroke-width="0.7"/>
<text x="406.20" y="627.90" font-size="5.5" text-anchor="end" font-weight="bold" fill="#222" >No. at risk</text>
<text x="405.80" y="635.00" font-size="5.5" text-anchor="end" font-weight="normal" fill="#e0922f" >TMB low:GEP low</text>
<text x="412.80" y="635.00" font-size="5.9" text-anchor="middle" font-weight="normal" fill="#333" >21</text>
<text x="429.47" y="635.00" font-size="5.9" text-anchor="middle" font-weight="normal" fill="#333" >10</text>
<text x="446.14" y="635.00" font-size="5.9" text-anchor="middle" font-weight="normal" fill="#333" >5</text>
<text x="462.81" y="635.00" font-size="5.9" text-anchor="middle" font-weight="normal" fill="#333" >2</text>
<text x="479.48" y="635.00" font-size="5.9" text-anchor="middle" font-weight="normal" fill="#333" >2</text>
<text x="496.15" y="635.00" font-size="5.9" text-anchor="middle" font-weight="normal" fill="#333" >1</text>
<text x="512.82" y="635.00" font-size="5.9" text-anchor="middle" font-weight="normal" fill="#333" >0</text>
<text x="405.80" y="641.96" font-size="5.5" text-anchor="end" font-weight="normal" fill="#d4606a" >TMB low:GEP high</text>
<text x="412.80" y="641.96" font-size="5.9" text-anchor="middle" font-weight="normal" fill="#333" >14</text>
<text x="429.47" y="641.96" font-size="5.9" text-anchor="middle" font-weight="normal" fill="#333" >13</text>
<text x="446.14" y="641.96" font-size="5.9" text-anchor="middle" font-weight="normal" fill="#333" >7</text>
<text x="462.81" y="641.96" font-size="5.9" text-anchor="middle" font-weight="normal" fill="#333" >6</text>
<text x="479.48" y="641.96" font-size="5.9" text-anchor="middle" font-weight="normal" fill="#333" >5</text>
<text x="496.15" y="641.96" font-size="5.9" text-anchor="middle" font-weight="normal" fill="#333" >3</text>
<text x="512.82" y="641.96" font-size="5.9" text-anchor="middle" font-weight="normal" fill="#333" >0</text>
<text x="405.80" y="648.92" font-size="5.5" text-anchor="end" font-weight="normal" fill="#7fcdb8" >TMB high:GEP low</text>
<text x="412.80" y="648.92" font-size="5.9" text-anchor="middle" font-weight="normal" fill="#333" >11</text>
<text x="429.47" y="648.92" font-size="5.9" text-anchor="middle" font-weight="normal" fill="#333" >6</text>
<text x="446.14" y="648.92" font-size="5.9" text-anchor="middle" font-weight="normal" fill="#333" >5</text>
<text x="462.81" y="648.92" font-size="5.9" text-anchor="middle" font-weight="normal" fill="#333" >4</text>
<text x="479.48" y="648.92" font-size="5.9" text-anchor="middle" font-weight="normal" fill="#333" >4</text>
<text x="496.15" y="648.92" font-size="5.9" text-anchor="middle" font-weight="normal" fill="#333" >4</text>
<text x="512.82" y="648.92" font-size="5.9" text-anchor="middle" font-weight="normal" fill="#333" >0</text>
<text x="405.80" y="655.88" font-size="5.5" text-anchor="end" font-weight="normal" fill="#6fc6ee" >TMB high:GEP high</text>
<text x="412.80" y="655.88" font-size="5.9" text-anchor="middle" font-weight="normal" fill="#333" >29</text>
<text x="429.47" y="655.88" font-size="5.9" text-anchor="middle" font-weight="normal" fill="#333" >22</text>
<text x="446.14" y="655.88" font-size="5.9" text-anchor="middle" font-weight="normal" fill="#333" >17</text>
<text x="462.81" y="655.88" font-size="5.9" text-anchor="middle" font-weight="normal" fill="#333" >16</text>
<text x="479.48" y="655.88" font-size="5.9" text-anchor="middle" font-weight="normal" fill="#333" >14</text>
<text x="496.15" y="655.88" font-size="5.9" text-anchor="middle" font-weight="normal" fill="#333" >11</text>
<text x="512.82" y="655.88" font-size="5.9" text-anchor="middle" font-weight="normal" fill="#333" >0</text>
<rect x="76.2" y="661.8" width="393.60" height="124.31" fill="#fff" stroke="none"/>
<rect x="151.8" y="670.10" width="212.90" height="6.45" fill="#d1686f"/>
<line x1="151.8" x2="364.7" y1="670.10" y2="670.10" stroke="#6a5a4a" stroke-width="0.35"/>
<text x="206.20" y="676.34" font-size="6.7" text-anchor="middle" font-weight="normal" fill="#6e2030" >Low</text>
<text x="311.65" y="676.34" font-size="6.7" text-anchor="middle" font-weight="normal" fill="#6e2030" >High</text>
<rect x="151.8" y="676.54" width="212.90" height="6.45" fill="#e88a1e"/>
<line x1="151.8" x2="364.7" y1="676.54" y2="676.54" stroke="#6a5a4a" stroke-width="0.35"/>
<text x="206.20" y="682.79" font-size="6.7" text-anchor="middle" font-weight="normal" fill="#6b3305" >Low</text>
<text x="311.65" y="682.79" font-size="6.7" text-anchor="middle" font-weight="normal" fill="#6b3305" >Low</text>
<rect x="151.8" y="682.99" width="212.90" height="6.45" fill="#80d0bd"/>
<line x1="151.8" x2="364.7" y1="682.99" y2="682.99" stroke="#6a5a4a" stroke-width="0.35"/>
<text x="206.20" y="689.23" font-size="6.7" text-anchor="middle" font-weight="normal" fill="#1f6b66" >High</text>
<text x="311.65" y="689.23" font-size="6.7" text-anchor="middle" font-weight="normal" fill="#1f6b66" >Low</text>
<rect x="151.8" y="689.43" width="212.90" height="6.45" fill="#e88a1e"/>
<line x1="151.8" x2="364.7" y1="689.43" y2="689.43" stroke="#6a5a4a" stroke-width="0.35"/>
<text x="206.20" y="695.68" font-size="6.7" text-anchor="middle" font-weight="normal" fill="#6b3305" >Low</text>
<text x="311.65" y="695.68" font-size="6.7" text-anchor="middle" font-weight="normal" fill="#6b3305" >Low</text>
<rect x="151.8" y="695.88" width="212.90" height="6.45" fill="#52bbf0"/>
<line x1="151.8" x2="364.7" y1="695.88" y2="695.88" stroke="#6a5a4a" stroke-width="0.35"/>
<text x="206.20" y="702.12" font-size="6.7" text-anchor="middle" font-weight="normal" fill="#14507a" >High</text>
<text x="311.65" y="702.12" font-size="6.7" text-anchor="middle" font-weight="normal" fill="#14507a" >High</text>
<rect x="151.8" y="702.32" width="212.90" height="6.45" fill="#e88a1e"/>
<line x1="151.8" x2="364.7" y1="702.32" y2="702.32" stroke="#6a5a4a" stroke-width="0.35"/>
<text x="206.20" y="708.57" font-size="6.7" text-anchor="middle" font-weight="normal" fill="#6b3305" >Low</text>
<text x="311.65" y="708.57" font-size="6.7" text-anchor="middle" font-weight="normal" fill="#6b3305" >Low</text>
<rect x="151.8" y="708.77" width="212.90" height="6.45" fill="#d1686f"/>
<line x1="151.8" x2="364.7" y1="708.77" y2="708.77" stroke="#6a5a4a" stroke-width="0.35"/>
<text x="206.20" y="715.01" font-size="6.7" text-anchor="middle" font-weight="normal" fill="#6e2030" >Low</text>
<text x="311.65" y="715.01" font-size="6.7" text-anchor="middle" font-weight="normal" fill="#6e2030" >High</text>
<rect x="151.8" y="715.21" width="212.90" height="6.45" fill="#e88a1e"/>
<line x1="151.8" x2="364.7" y1="715.21" y2="715.21" stroke="#6a5a4a" stroke-width="0.35"/>
<text x="206.20" y="721.46" font-size="6.7" text-anchor="middle" font-weight="normal" fill="#6b3305" >Low</text>
<text x="311.65" y="721.46" font-size="6.7" text-anchor="middle" font-weight="normal" fill="#6b3305" >Low</text>
<rect x="151.8" y="721.66" width="212.90" height="6.45" fill="#80d0bd"/>
<line x1="151.8" x2="364.7" y1="721.66" y2="721.66" stroke="#6a5a4a" stroke-width="0.35"/>
<text x="206.20" y="727.90" font-size="6.7" text-anchor="middle" font-weight="normal" fill="#1f6b66" >High</text>
<text x="311.65" y="727.90" font-size="6.7" text-anchor="middle" font-weight="normal" fill="#1f6b66" >Low</text>
<rect x="151.8" y="728.10" width="212.90" height="6.45" fill="#e88a1e"/>
<line x1="151.8" x2="364.7" y1="728.10" y2="728.10" stroke="#6a5a4a" stroke-width="0.35"/>
<text x="206.20" y="734.35" font-size="6.7" text-anchor="middle" font-weight="normal" fill="#6b3305" >Low</text>
<text x="311.65" y="734.35" font-size="6.7" text-anchor="middle" font-weight="normal" fill="#6b3305" >Low</text>
<rect x="151.8" y="734.55" width="212.90" height="6.45" fill="#52bbf0"/>
<line x1="151.8" x2="364.7" y1="734.55" y2="734.55" stroke="#6a5a4a" stroke-width="0.35"/>
<text x="206.20" y="740.79" font-size="6.7" text-anchor="middle" font-weight="normal" fill="#14507a" >High</text>
<text x="311.65" y="740.79" font-size="6.7" text-anchor="middle" font-weight="normal" fill="#14507a" >High</text>
<rect x="151.8" y="740.99" width="212.90" height="6.45" fill="#e88a1e"/>
<line x1="151.8" x2="364.7" y1="740.99" y2="740.99" stroke="#6a5a4a" stroke-width="0.35"/>
<text x="206.20" y="747.24" font-size="6.7" text-anchor="middle" font-weight="normal" fill="#6b3305" >Low</text>
<text x="311.65" y="747.24" font-size="6.7" text-anchor="middle" font-weight="normal" fill="#6b3305" >Low</text>
<rect x="151.8" y="747.44" width="212.90" height="6.45" fill="#d1686f"/>
<line x1="151.8" x2="364.7" y1="747.44" y2="747.44" stroke="#6a5a4a" stroke-width="0.35"/>
<text x="206.20" y="753.68" font-size="6.7" text-anchor="middle" font-weight="normal" fill="#6e2030" >Low</text>
<text x="311.65" y="753.68" font-size="6.7" text-anchor="middle" font-weight="normal" fill="#6e2030" >High</text>
<rect x="151.8" y="753.88" width="212.90" height="6.45" fill="#e88a1e"/>
<line x1="151.8" x2="364.7" y1="753.88" y2="753.88" stroke="#6a5a4a" stroke-width="0.35"/>
<text x="206.20" y="760.13" font-size="6.7" text-anchor="middle" font-weight="normal" fill="#6b3305" >Low</text>
<text x="311.65" y="760.13" font-size="6.7" text-anchor="middle" font-weight="normal" fill="#6b3305" >Low</text>
<rect x="151.8" y="760.33" width="212.90" height="6.45" fill="#80d0bd"/>
<line x1="151.8" x2="364.7" y1="760.33" y2="760.33" stroke="#6a5a4a" stroke-width="0.35"/>
<text x="206.20" y="766.57" font-size="6.7" text-anchor="middle" font-weight="normal" fill="#1f6b66" >High</text>
<text x="311.65" y="766.57" font-size="6.7" text-anchor="middle" font-weight="normal" fill="#1f6b66" >Low</text>
<rect x="151.8" y="766.77" width="212.90" height="6.45" fill="#e88a1e"/>
<line x1="151.8" x2="364.7" y1="766.77" y2="766.77" stroke="#6a5a4a" stroke-width="0.35"/>
<text x="206.20" y="773.02" font-size="6.7" text-anchor="middle" font-weight="normal" fill="#6b3305" >Low</text>
<text x="311.65" y="773.02" font-size="6.7" text-anchor="middle" font-weight="normal" fill="#6b3305" >Low</text>
<rect x="151.8" y="773.22" width="212.90" height="6.45" fill="#52bbf0"/>
<line x1="151.8" x2="364.7" y1="773.22" y2="773.22" stroke="#6a5a4a" stroke-width="0.35"/>
<text x="206.20" y="779.46" font-size="6.7" text-anchor="middle" font-weight="normal" fill="#14507a" >High</text>
<text x="311.65" y="779.46" font-size="6.7" text-anchor="middle" font-weight="normal" fill="#14507a" >High</text>
<rect x="151.8" y="779.66" width="212.90" height="6.45" fill="#e88a1e"/>
<line x1="151.8" x2="364.7" y1="779.66" y2="779.66" stroke="#6a5a4a" stroke-width="0.35"/>
<text x="206.20" y="785.91" font-size="6.7" text-anchor="middle" font-weight="normal" fill="#6b3305" >Low</text>
<text x="311.65" y="785.91" font-size="6.7" text-anchor="middle" font-weight="normal" fill="#6b3305" >Low</text>
<text x="420.25" y="677.94" font-size="6.7" text-anchor="middle" font-weight="normal" fill="#222" >0.24 (0.08–0.69)</text>
<line x1="364.7" x2="469.8" y1="682.99" y2="682.99" stroke="#a8a8a8" stroke-width="0.8"/>
<text x="420.25" y="690.83" font-size="6.7" text-anchor="middle" font-weight="normal" fill="#222" >0.49 (0.20–1.20)</text>
<line x1="364.7" x2="469.8" y1="695.88" y2="695.88" stroke="#a8a8a8" stroke-width="0.8"/>
<text x="420.25" y="703.72" font-size="6.7" text-anchor="middle" font-weight="normal" fill="#222" >0.17 (0.07–0.42)</text>
<line x1="364.7" x2="469.8" y1="708.77" y2="708.77" stroke="#a8a8a8" stroke-width="0.8"/>
<text x="420.25" y="716.61" font-size="6.7" text-anchor="middle" font-weight="normal" fill="#222" >0.29 (0.10–0.79)</text>
<line x1="364.7" x2="469.8" y1="721.66" y2="721.66" stroke="#a8a8a8" stroke-width="0.8"/>
<text x="420.25" y="729.50" font-size="6.7" text-anchor="middle" font-weight="normal" fill="#222" >0.48 (0.20–1.13)</text>
<line x1="364.7" x2="469.8" y1="734.55" y2="734.55" stroke="#a8a8a8" stroke-width="0.8"/>
<text x="420.25" y="742.39" font-size="6.7" text-anchor="middle" font-weight="normal" fill="#222" >0.20 (0.07–0.61)</text>
<line x1="364.7" x2="469.8" y1="747.44" y2="747.44" stroke="#a8a8a8" stroke-width="0.8"/>
<text x="420.25" y="755.28" font-size="6.7" text-anchor="middle" font-weight="normal" fill="#222" >0.45 (0.20–0.97)</text>
<line x1="364.7" x2="469.8" y1="760.33" y2="760.33" stroke="#a8a8a8" stroke-width="0.8"/>
<text x="420.25" y="768.17" font-size="6.7" text-anchor="middle" font-weight="normal" fill="#222" >0.47 (0.19–1.18)</text>
<line x1="364.7" x2="469.8" y1="773.22" y2="773.22" stroke="#a8a8a8" stroke-width="0.8"/>
<text x="420.25" y="781.06" font-size="6.7" text-anchor="middle" font-weight="normal" fill="#222" >0.27 (0.13–0.57)</text>
<line x1="76.2" x2="469.8" y1="670.10" y2="670.10" stroke="#444" stroke-width="0.7"/>
<text x="80.00" y="677.40" font-size="6.8" text-anchor="start" font-weight="bold" fill="#222" >NIVO</text>
<line x1="76.2" x2="151.8" y1="708.77" y2="708.77" stroke="#444" stroke-width="0.7"/>
<text x="80.00" y="716.07" font-size="6.8" text-anchor="start" font-weight="bold" fill="#222" >NIVO+IPI</text>
<line x1="76.2" x2="151.8" y1="747.44" y2="747.44" stroke="#444" stroke-width="0.7"/>
<text x="80.00" y="754.74" font-size="6.8" text-anchor="start" font-weight="bold" fill="#222" >IPI</text>
<line x1="151.8" x2="151.8" y1="661.8" y2="786.11" stroke="#444" stroke-width="0.7"/>
<line x1="258.6" x2="258.6" y1="661.8" y2="786.11" stroke="#444" stroke-width="0.7"/>
<line x1="364.7" x2="364.7" y1="661.8" y2="786.11" stroke="#444" stroke-width="0.7"/>
<rect x="76.2" y="661.8" width="393.60" height="124.31" fill="none" stroke="#444" stroke-width="0.8"/>
<text x="80.00" y="668.40" font-size="6.8" text-anchor="start" font-weight="bold" fill="#222" >Treatment</text>
<text x="206.20" y="668.40" font-size="6.8" text-anchor="middle" font-weight="bold" fill="#222" >TMB class</text>
<text x="311.65" y="668.40" font-size="6.8" text-anchor="middle" font-weight="bold" fill="#222" >Inflammatory signature score</text>
<text x="420.25" y="668.40" font-size="6.85" text-anchor="middle" font-weight="bold" fill="#222" >OS HR (95% CI)</text>
</svg>
</body></html>
